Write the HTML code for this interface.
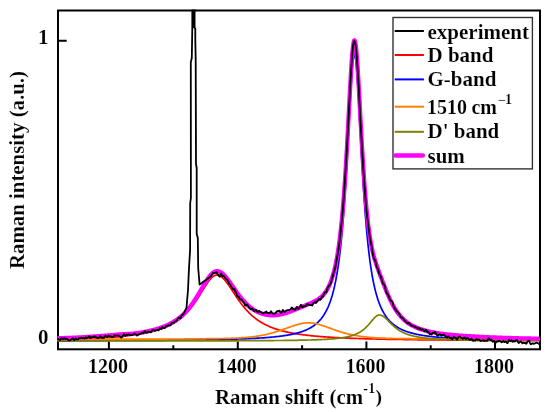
<!DOCTYPE html>
<html><head><meta charset="utf-8"><title>Raman spectrum</title>
<style>html,body{margin:0;padding:0;background:#fff;overflow:hidden}svg{display:block}</style>
</head><body>
<svg width="550" height="412" viewBox="0 0 550 412">
<rect width="550" height="412" fill="#fff"/>
<rect x="58" y="10.5" width="482" height="338.8" fill="none" stroke="#000" stroke-width="2"/>
<path d="M108.9,349.3V341.5 M237.8,349.3V341.5 M366.4,349.3V341.5 M495.0,349.3V341.5 M173.3,349.3V345.2 M302.1,349.3V345.2 M430.7,349.3V345.2 M58,40.8H66.7 M58,341H66.7" stroke="#000" stroke-width="2" fill="none"/>
<defs><clipPath id="c"><rect x="50" y="9.5" width="500" height="342"/></clipPath></defs>
<g clip-path="url(#c)" fill="none" stroke-linejoin="round">
<polyline points="57.2,339.4 57.7,339.3 58.2,339.3 58.7,339.3 59.2,339.3 59.7,339.3 60.2,339.3 60.7,339.3 61.2,339.3 61.7,339.3 62.2,339.2 62.7,339.2 63.2,339.2 63.7,339.2 64.2,339.2 64.7,339.2 65.2,339.2 65.7,339.2 66.2,339.2 66.7,339.1 67.2,339.1 67.7,339.1 68.2,339.1 68.7,339.1 69.2,339.1 69.7,339.1 70.2,339.1 70.7,339.0 71.2,339.0 71.7,339.0 72.2,339.0 72.7,339.0 73.2,339.0 73.7,339.0 74.2,339.0 74.7,338.9 75.2,338.9 75.7,338.9 76.2,338.9 76.7,338.9 77.2,338.9 77.7,338.8 78.2,338.8 78.7,338.8 79.2,338.8 79.7,338.8 80.2,338.8 80.7,338.8 81.2,338.7 81.7,338.7 82.2,338.7 82.7,338.7 83.2,338.7 83.7,338.7 84.2,338.6 84.7,338.6 85.2,338.6 85.7,338.6 86.2,338.6 86.7,338.6 87.2,338.5 87.7,338.5 88.2,338.5 88.7,338.5 89.2,338.5 89.7,338.4 90.2,338.4 90.7,338.4 91.2,338.4 91.7,338.4 92.2,338.3 92.7,338.3 93.2,338.3 93.7,338.3 94.2,338.3 94.7,338.2 95.2,338.2 95.7,338.2 96.2,338.2 96.7,338.1 97.2,338.1 97.7,338.1 98.2,338.1 98.7,338.1 99.2,338.0 99.7,338.0 100.2,338.0 100.7,338.0 101.2,337.9 101.7,337.9 102.2,337.9 102.7,337.9 103.2,337.8 103.7,337.8 104.2,337.8 104.7,337.7 105.2,337.7 105.7,337.7 106.2,337.7 106.7,337.6 107.2,337.6 107.7,337.6 108.2,337.5 108.7,337.5 109.2,337.5 109.7,337.5 110.2,337.4 110.7,337.4 111.2,337.4 111.7,337.3 112.2,337.3 112.7,337.3 113.2,337.2 113.7,337.2 114.2,337.2 114.7,337.1 115.2,337.1 115.7,337.0 116.2,337.0 116.7,337.0 117.2,336.9 117.7,336.9 118.2,336.9 118.7,336.8 119.2,336.8 119.7,336.7 120.2,336.7 120.7,336.6 121.2,336.6 121.7,336.5 122.2,336.4 122.7,336.4 123.2,336.3 123.7,336.3 124.2,336.2 124.7,336.1 125.2,336.1 125.7,336.0 126.2,335.9 126.7,335.9 127.2,335.8 127.7,335.7 128.2,335.7 128.7,335.6 129.2,335.5 129.7,335.4 130.2,335.4 130.7,335.3 131.2,335.2 131.7,335.1 132.2,335.1 132.7,335.0 133.2,334.9 133.7,334.8 134.2,334.7 134.7,334.7 135.2,334.6 135.7,334.5 136.2,334.4 136.7,334.3 137.2,334.2 137.7,334.2 138.2,334.1 138.7,334.0 139.2,333.9 139.7,333.8 140.2,333.7 140.7,333.6 141.2,333.5 141.7,333.5 142.2,333.4 142.7,333.3 143.2,333.2 143.7,333.1 144.2,333.0 144.7,332.9 145.2,332.9 145.7,332.8 146.2,332.7 146.7,332.6 147.2,332.5 147.7,332.4 148.2,332.3 148.7,332.2 149.2,332.1 149.7,332.0 150.2,331.8 150.7,331.7 151.2,331.6 151.7,331.5 152.2,331.4 152.7,331.3 153.2,331.1 153.7,331.0 154.2,330.9 154.7,330.8 155.2,330.6 155.7,330.5 156.2,330.4 156.7,330.2 157.2,330.1 157.7,329.9 158.2,329.8 158.7,329.6 159.2,329.5 159.7,329.3 160.2,329.1 160.7,329.0 161.2,328.8 161.7,328.6 162.2,328.5 162.7,328.3 163.2,328.1 163.7,327.9 164.2,327.7 164.7,327.5 165.2,327.3 165.7,327.1 166.2,326.9 166.7,326.7 167.2,326.5 167.7,326.3 168.2,326.0 168.7,325.8 169.2,325.6 169.7,325.3 170.2,325.1 170.7,324.8 171.2,324.6 171.7,324.3 172.2,324.0 172.7,323.7 173.2,323.5 173.7,323.2 174.2,322.9 174.7,322.6 175.2,322.3 175.7,321.9 176.2,321.6 176.7,321.3 177.2,320.9 177.7,320.6 178.2,320.2 178.7,319.9 179.2,319.5 179.7,319.1 180.2,318.7 180.7,318.3 181.2,317.9 181.7,317.5 182.2,317.1 182.7,316.6 183.2,316.2 183.7,315.7 184.2,315.2 184.7,314.7 185.2,314.3 185.7,313.8 186.2,313.2 186.7,312.7 187.2,312.2 187.7,311.6 188.2,311.1 188.7,310.5 189.2,309.9 189.7,309.3 190.2,308.7 190.7,308.1 191.2,307.5 191.7,306.9 192.2,306.2 192.7,305.6 193.2,304.9 193.7,304.2 194.2,303.5 194.7,302.8 195.2,302.1 195.7,301.4 196.2,300.7 196.7,299.9 197.2,299.2 197.7,298.4 198.2,297.6 198.7,296.8 199.2,296.1 199.7,295.3 200.2,294.5 200.7,293.7 201.2,292.8 201.7,292.0 202.2,291.2 202.7,290.4 203.2,289.6 203.7,288.8 204.2,288.0 204.7,287.2 205.2,286.4 205.7,285.6 206.2,284.8 206.7,284.0 207.2,283.3 207.7,282.6 208.2,281.8 208.7,281.2 209.2,280.5 209.7,279.9 210.2,279.3 210.7,278.7 211.2,278.2 211.7,277.7 212.2,277.2 212.7,276.8 213.2,276.4 213.7,276.1 214.2,275.8 214.7,275.6 215.2,275.4 215.7,275.3 216.2,275.2 216.7,275.2 217.2,275.2 217.7,275.2 218.2,275.3 218.7,275.5 219.2,275.6 219.7,275.9 220.2,276.1 220.7,276.4 221.2,276.7 221.7,277.1 222.2,277.5 222.7,278.0 223.2,278.4 223.7,278.9 224.2,279.5 224.7,280.0 225.2,280.6 225.7,281.2 226.2,281.9 226.7,282.5 227.2,283.2 227.7,283.9 228.2,284.6 228.7,285.3 229.2,286.0 229.7,286.7 230.2,287.5 230.7,288.2 231.2,289.0 231.7,289.8 232.2,290.5 232.7,291.3 233.2,292.1 233.7,292.8 234.2,293.6 234.7,294.3 235.2,295.1 235.7,295.9 236.2,296.6 236.7,297.3 237.2,298.1 237.7,298.8 238.2,299.5 238.7,300.2 239.2,300.9 239.7,301.6 240.2,302.3 240.7,303.0 241.2,303.7 241.7,304.3 242.2,305.0 242.7,305.6 243.2,306.2 243.7,306.9 244.2,307.5 244.7,308.1 245.2,308.6 245.7,309.2 246.2,309.8 246.7,310.3 247.2,310.9 247.7,311.4 248.2,311.9 248.7,312.4 249.2,313.0 249.7,313.4 250.2,313.9 250.7,314.4 251.2,314.9 251.7,315.3 252.2,315.8 252.7,316.2 253.2,316.6 253.7,317.0 254.2,317.4 254.7,317.8 255.2,318.2 255.7,318.6 256.2,319.0 256.7,319.4 257.2,319.7 257.7,320.1 258.2,320.4 258.7,320.8 259.2,321.1 259.7,321.4 260.2,321.7 260.7,322.0 261.2,322.3 261.7,322.6 262.2,322.9 262.7,323.2 263.2,323.5 263.7,323.8 264.2,324.0 264.7,324.3 265.2,324.6 265.7,324.8 266.2,325.1 266.7,325.3 267.2,325.5 267.7,325.8 268.2,326.0 268.7,326.2 269.2,326.4 269.7,326.7 270.2,326.9 270.7,327.1 271.2,327.3 271.7,327.5 272.2,327.7 272.7,327.9 273.2,328.0 273.7,328.2 274.2,328.4 274.7,328.6 275.2,328.8 275.7,328.9 276.2,329.1 276.7,329.3 277.2,329.4 277.7,329.6 278.2,329.7 278.7,329.9 279.2,330.0 279.7,330.2 280.2,330.3 280.7,330.5 281.2,330.6 281.7,330.7 282.2,330.9 282.7,331.0 283.2,331.1 283.7,331.2 284.2,331.4 284.7,331.5 285.2,331.6 285.7,331.7 286.2,331.8 286.7,331.9 287.2,332.1 287.7,332.2 288.2,332.3 288.7,332.4 289.2,332.5 289.7,332.6 290.2,332.7 290.7,332.8 291.2,332.9 291.7,333.0 292.2,333.1 292.7,333.2 293.2,333.2 293.7,333.3 294.2,333.4 294.7,333.5 295.2,333.6 295.7,333.7 296.2,333.8 296.7,333.8 297.2,333.9 297.7,334.0 298.2,334.1 298.7,334.1 299.2,334.2 299.7,334.3 300.2,334.4 300.7,334.4 301.2,334.5 301.7,334.6 302.2,334.6 302.7,334.7 303.2,334.8 303.7,334.8 304.2,334.9 304.7,335.0 305.2,335.0 305.7,335.1 306.2,335.2 306.7,335.2 307.2,335.3 307.7,335.3 308.2,335.4 308.7,335.4 309.2,335.5 309.7,335.5 310.2,335.6 310.7,335.7 311.2,335.7 311.7,335.8 312.2,335.8 312.7,335.9 313.2,335.9 313.7,336.0 314.2,336.0 314.7,336.1 315.2,336.1 315.7,336.1 316.2,336.2 316.7,336.2 317.2,336.3 317.7,336.3 318.2,336.4 318.7,336.4 319.2,336.4 319.7,336.5 320.2,336.5 320.7,336.6 321.2,336.6 321.7,336.6 322.2,336.7 322.7,336.7 323.2,336.8 323.7,336.8 324.2,336.8 324.7,336.9 325.2,336.9 325.7,336.9 326.2,337.0 326.7,337.0 327.2,337.0 327.7,337.1 328.2,337.1 328.7,337.1 329.2,337.2 329.7,337.2 330.2,337.2 330.7,337.3 331.2,337.3 331.7,337.3 332.2,337.4 332.7,337.4 333.2,337.4 333.7,337.4 334.2,337.5 334.7,337.5 335.2,337.5 335.7,337.6 336.2,337.6 336.7,337.6 337.2,337.6 337.7,337.7 338.2,337.7 338.7,337.7 339.2,337.7 339.7,337.8 340.2,337.8 340.7,337.8 341.2,337.8 341.7,337.9 342.2,337.9 342.7,337.9 343.2,337.9 343.7,338.0 344.2,338.0 344.7,338.0 345.2,338.0 345.7,338.1 346.2,338.1 346.7,338.1 347.2,338.1 347.7,338.1 348.2,338.2 348.7,338.2 349.2,338.2 349.7,338.2 350.2,338.2 350.7,338.3 351.2,338.3 351.7,338.3 352.2,338.3 352.7,338.3 353.2,338.4 353.7,338.4 354.2,338.4 354.7,338.4 355.2,338.4 355.7,338.4 356.2,338.5 356.7,338.5 357.2,338.5 357.7,338.5 358.2,338.5 358.7,338.5 359.2,338.6 359.7,338.6 360.2,338.6 360.7,338.6 361.2,338.6 361.7,338.6 362.2,338.7 362.7,338.7 363.2,338.7 363.7,338.7 364.2,338.7 364.7,338.7 365.2,338.8 365.7,338.8 366.2,338.8 366.7,338.8 367.2,338.8 367.7,338.8 368.2,338.8 368.7,338.8 369.2,338.9 369.7,338.9 370.2,338.9 370.7,338.9 371.2,338.9 371.7,338.9 372.2,338.9 372.7,339.0 373.2,339.0 373.7,339.0 374.2,339.0 374.7,339.0 375.2,339.0 375.7,339.0 376.2,339.0 376.7,339.1 377.2,339.1 377.7,339.1 378.2,339.1 378.7,339.1 379.2,339.1 379.7,339.1 380.2,339.1 380.7,339.1 381.2,339.2 381.7,339.2 382.2,339.2 382.7,339.2 383.2,339.2 383.7,339.2 384.2,339.2 384.7,339.2 385.2,339.2 385.7,339.2 386.2,339.3 386.7,339.3 387.2,339.3 387.7,339.3 388.2,339.3 388.7,339.3 389.2,339.3 389.7,339.3 390.2,339.3 390.7,339.3 391.2,339.4 391.7,339.4 392.2,339.4 392.7,339.4 393.2,339.4 393.7,339.4 394.2,339.4 394.7,339.4 395.2,339.4 395.7,339.4 396.2,339.4 396.7,339.5 397.2,339.5 397.7,339.5 398.2,339.5 398.7,339.5 399.2,339.5 399.7,339.5 400.2,339.5 400.7,339.5 401.2,339.5 401.7,339.5 402.2,339.5 402.7,339.5 403.2,339.6 403.7,339.6 404.2,339.6 404.7,339.6 405.2,339.6 405.7,339.6 406.2,339.6 406.7,339.6 407.2,339.6 407.7,339.6 408.2,339.6 408.7,339.6 409.2,339.6 409.7,339.6 410.2,339.7 410.7,339.7 411.2,339.7 411.7,339.7 412.2,339.7 412.7,339.7 413.2,339.7 413.7,339.7 414.2,339.7 414.7,339.7 415.2,339.7 415.7,339.7 416.2,339.7 416.7,339.7 417.2,339.7 417.7,339.8 418.2,339.8 418.7,339.8 419.2,339.8 419.7,339.8 420.2,339.8 420.7,339.8 421.2,339.8 421.7,339.8 422.2,339.8 422.7,339.8 423.2,339.8 423.7,339.8 424.2,339.8 424.7,339.8 425.2,339.8 425.7,339.8 426.2,339.9 426.7,339.9 427.2,339.9 427.7,339.9 428.2,339.9 428.7,339.9 429.2,339.9 429.7,339.9 430.2,339.9 430.7,339.9 431.2,339.9 431.7,339.9 432.2,339.9 432.7,339.9 433.2,339.9 433.7,339.9 434.2,339.9 434.7,339.9 435.2,339.9 435.7,339.9 436.2,340.0 436.7,340.0 437.2,340.0 437.7,340.0 438.2,340.0 438.7,340.0 439.2,340.0 439.7,340.0 440.2,340.0 440.7,340.0 441.2,340.0 441.7,340.0 442.2,340.0 442.7,340.0 443.2,340.0 443.7,340.0 444.2,340.0 444.7,340.0 445.2,340.0 445.7,340.0 446.2,340.0 446.7,340.0 447.2,340.0 447.7,340.1 448.2,340.1 448.7,340.1 449.2,340.1 449.7,340.1 450.2,340.1 450.7,340.1 451.2,340.1 451.7,340.1 452.2,340.1 452.7,340.1 453.2,340.1 453.7,340.1 454.2,340.1 454.7,340.1 455.2,340.1 455.7,340.1 456.2,340.1 456.7,340.1 457.2,340.1 457.7,340.1 458.2,340.1 458.7,340.1 459.2,340.1 459.7,340.1 460.2,340.1 460.7,340.1 461.2,340.2 461.7,340.2 462.2,340.2 462.7,340.2 463.2,340.2 463.7,340.2 464.2,340.2 464.7,340.2 465.2,340.2 465.7,340.2 466.2,340.2 466.7,340.2 467.2,340.2 467.7,340.2 468.2,340.2 468.7,340.2 469.2,340.2 469.7,340.2 470.2,340.2 470.7,340.2 471.2,340.2 471.7,340.2 472.2,340.2 472.7,340.2 473.2,340.2 473.7,340.2 474.2,340.2 474.7,340.2 475.2,340.2 475.7,340.2 476.2,340.2 476.7,340.2 477.2,340.3 477.7,340.3 478.2,340.3 478.7,340.3 479.2,340.3 479.7,340.3 480.2,340.3 480.7,340.3 481.2,340.3 481.7,340.3 482.2,340.3 482.7,340.3 483.2,340.3 483.7,340.3 484.2,340.3 484.7,340.3 485.2,340.3 485.7,340.3 486.2,340.3 486.7,340.3 487.2,340.3 487.7,340.3 488.2,340.3 488.7,340.3 489.2,340.3 489.7,340.3 490.2,340.3 490.7,340.3 491.2,340.3 491.7,340.3 492.2,340.3 492.7,340.3 493.2,340.3 493.7,340.3 494.2,340.3 494.7,340.3 495.2,340.3 495.7,340.3 496.2,340.3 496.7,340.4 497.2,340.4 497.7,340.4 498.2,340.4 498.7,340.4 499.2,340.4 499.7,340.4 500.2,340.4 500.7,340.4 501.2,340.4 501.7,340.4 502.2,340.4 502.7,340.4 503.2,340.4 503.7,340.4 504.2,340.4 504.7,340.4 505.2,340.4 505.7,340.4 506.2,340.4 506.7,340.4 507.2,340.4 507.7,340.4 508.2,340.4 508.7,340.4 509.2,340.4 509.7,340.4 510.2,340.4 510.7,340.4 511.2,340.4 511.7,340.4 512.2,340.4 512.7,340.4 513.2,340.4 513.7,340.4 514.2,340.4 514.7,340.4 515.2,340.4 515.7,340.4 516.2,340.4 516.7,340.4 517.2,340.4 517.7,340.4 518.2,340.4 518.7,340.4 519.2,340.4 519.7,340.4 520.2,340.4 520.7,340.4 521.2,340.5 521.7,340.5 522.2,340.5 522.7,340.5 523.2,340.5 523.7,340.5 524.2,340.5 524.7,340.5 525.2,340.5 525.7,340.5 526.2,340.5 526.7,340.5 527.2,340.5 527.7,340.5 528.2,340.5 528.7,340.5 529.2,340.5 529.7,340.5 530.2,340.5 530.7,340.5 531.2,340.5 531.7,340.5 532.2,340.5 532.7,340.5 533.2,340.5 533.7,340.5 534.2,340.5 534.7,340.5 535.2,340.5 535.7,340.5 536.2,340.5 536.7,340.5 537.2,340.5 537.7,340.5 538.2,340.5 538.7,340.5 539.2,340.5 539.7,340.5" stroke="#ff0000" stroke-width="1.7"/>
<polyline points="57.2,340.7 57.7,340.7 58.2,340.7 58.7,340.7 59.2,340.7 59.7,340.7 60.2,340.7 60.7,340.7 61.2,340.7 61.7,340.7 62.2,340.7 62.7,340.7 63.2,340.7 63.7,340.7 64.2,340.7 64.7,340.7 65.2,340.7 65.7,340.7 66.2,340.7 66.7,340.7 67.2,340.7 67.7,340.7 68.2,340.7 68.7,340.7 69.2,340.7 69.7,340.7 70.2,340.7 70.7,340.7 71.2,340.7 71.7,340.7 72.2,340.7 72.7,340.7 73.2,340.7 73.7,340.7 74.2,340.7 74.7,340.7 75.2,340.7 75.7,340.7 76.2,340.7 76.7,340.7 77.2,340.7 77.7,340.7 78.2,340.6 78.7,340.6 79.2,340.6 79.7,340.6 80.2,340.6 80.7,340.6 81.2,340.6 81.7,340.6 82.2,340.6 82.7,340.6 83.2,340.6 83.7,340.6 84.2,340.6 84.7,340.6 85.2,340.6 85.7,340.6 86.2,340.6 86.7,340.6 87.2,340.6 87.7,340.6 88.2,340.6 88.7,340.6 89.2,340.6 89.7,340.6 90.2,340.6 90.7,340.6 91.2,340.6 91.7,340.6 92.2,340.6 92.7,340.6 93.2,340.6 93.7,340.6 94.2,340.6 94.7,340.6 95.2,340.6 95.7,340.6 96.2,340.6 96.7,340.6 97.2,340.6 97.7,340.6 98.2,340.6 98.7,340.6 99.2,340.6 99.7,340.6 100.2,340.6 100.7,340.6 101.2,340.6 101.7,340.6 102.2,340.6 102.7,340.6 103.2,340.6 103.7,340.6 104.2,340.6 104.7,340.6 105.2,340.6 105.7,340.6 106.2,340.6 106.7,340.6 107.2,340.6 107.7,340.6 108.2,340.6 108.7,340.6 109.2,340.6 109.7,340.6 110.2,340.6 110.7,340.6 111.2,340.5 111.7,340.5 112.2,340.5 112.7,340.5 113.2,340.5 113.7,340.5 114.2,340.5 114.7,340.5 115.2,340.5 115.7,340.5 116.2,340.5 116.7,340.5 117.2,340.5 117.7,340.5 118.2,340.5 118.7,340.5 119.2,340.5 119.7,340.5 120.2,340.5 120.7,340.5 121.2,340.5 121.7,340.5 122.2,340.5 122.7,340.5 123.2,340.5 123.7,340.5 124.2,340.5 124.7,340.5 125.2,340.5 125.7,340.5 126.2,340.5 126.7,340.5 127.2,340.5 127.7,340.5 128.2,340.5 128.7,340.5 129.2,340.5 129.7,340.5 130.2,340.5 130.7,340.5 131.2,340.5 131.7,340.5 132.2,340.5 132.7,340.5 133.2,340.5 133.7,340.5 134.2,340.4 134.7,340.4 135.2,340.4 135.7,340.4 136.2,340.4 136.7,340.4 137.2,340.4 137.7,340.4 138.2,340.4 138.7,340.4 139.2,340.4 139.7,340.4 140.2,340.4 140.7,340.4 141.2,340.4 141.7,340.4 142.2,340.4 142.7,340.4 143.2,340.4 143.7,340.4 144.2,340.4 144.7,340.4 145.2,340.4 145.7,340.4 146.2,340.4 146.7,340.4 147.2,340.4 147.7,340.4 148.2,340.4 148.7,340.4 149.2,340.4 149.7,340.4 150.2,340.4 150.7,340.4 151.2,340.4 151.7,340.4 152.2,340.3 152.7,340.3 153.2,340.3 153.7,340.3 154.2,340.3 154.7,340.3 155.2,340.3 155.7,340.3 156.2,340.3 156.7,340.3 157.2,340.3 157.7,340.3 158.2,340.3 158.7,340.3 159.2,340.3 159.7,340.3 160.2,340.3 160.7,340.3 161.2,340.3 161.7,340.3 162.2,340.3 162.7,340.3 163.2,340.3 163.7,340.3 164.2,340.3 164.7,340.3 165.2,340.3 165.7,340.3 166.2,340.2 166.7,340.2 167.2,340.2 167.7,340.2 168.2,340.2 168.7,340.2 169.2,340.2 169.7,340.2 170.2,340.2 170.7,340.2 171.2,340.2 171.7,340.2 172.2,340.2 172.7,340.2 173.2,340.2 173.7,340.2 174.2,340.2 174.7,340.2 175.2,340.2 175.7,340.2 176.2,340.2 176.7,340.2 177.2,340.2 177.7,340.1 178.2,340.1 178.7,340.1 179.2,340.1 179.7,340.1 180.2,340.1 180.7,340.1 181.2,340.1 181.7,340.1 182.2,340.1 182.7,340.1 183.2,340.1 183.7,340.1 184.2,340.1 184.7,340.1 185.2,340.1 185.7,340.1 186.2,340.1 186.7,340.1 187.2,340.0 187.7,340.0 188.2,340.0 188.7,340.0 189.2,340.0 189.7,340.0 190.2,340.0 190.7,340.0 191.2,340.0 191.7,340.0 192.2,340.0 192.7,340.0 193.2,340.0 193.7,340.0 194.2,340.0 194.7,340.0 195.2,339.9 195.7,339.9 196.2,339.9 196.7,339.9 197.2,339.9 197.7,339.9 198.2,339.9 198.7,339.9 199.2,339.9 199.7,339.9 200.2,339.9 200.7,339.9 201.2,339.9 201.7,339.9 202.2,339.8 202.7,339.8 203.2,339.8 203.7,339.8 204.2,339.8 204.7,339.8 205.2,339.8 205.7,339.8 206.2,339.8 206.7,339.8 207.2,339.8 207.7,339.8 208.2,339.8 208.7,339.7 209.2,339.7 209.7,339.7 210.2,339.7 210.7,339.7 211.2,339.7 211.7,339.7 212.2,339.7 212.7,339.7 213.2,339.7 213.7,339.7 214.2,339.6 214.7,339.6 215.2,339.6 215.7,339.6 216.2,339.6 216.7,339.6 217.2,339.6 217.7,339.6 218.2,339.6 218.7,339.6 219.2,339.5 219.7,339.5 220.2,339.5 220.7,339.5 221.2,339.5 221.7,339.5 222.2,339.5 222.7,339.5 223.2,339.5 223.7,339.4 224.2,339.4 224.7,339.4 225.2,339.4 225.7,339.4 226.2,339.4 226.7,339.4 227.2,339.4 227.7,339.3 228.2,339.3 228.7,339.3 229.2,339.3 229.7,339.3 230.2,339.3 230.7,339.3 231.2,339.2 231.7,339.2 232.2,339.2 232.7,339.2 233.2,339.2 233.7,339.2 234.2,339.2 234.7,339.1 235.2,339.1 235.7,339.1 236.2,339.1 236.7,339.1 237.2,339.1 237.7,339.0 238.2,339.0 238.7,339.0 239.2,339.0 239.7,339.0 240.2,339.0 240.7,338.9 241.2,338.9 241.7,338.9 242.2,338.9 242.7,338.9 243.2,338.9 243.7,338.8 244.2,338.8 244.7,338.8 245.2,338.8 245.7,338.8 246.2,338.7 246.7,338.7 247.2,338.7 247.7,338.7 248.2,338.6 248.7,338.6 249.2,338.6 249.7,338.6 250.2,338.6 250.7,338.5 251.2,338.5 251.7,338.5 252.2,338.5 252.7,338.4 253.2,338.4 253.7,338.4 254.2,338.4 254.7,338.3 255.2,338.3 255.7,338.3 256.2,338.3 256.7,338.2 257.2,338.2 257.7,338.2 258.2,338.1 258.7,338.1 259.2,338.1 259.7,338.0 260.2,338.0 260.7,338.0 261.2,338.0 261.7,337.9 262.2,337.9 262.7,337.9 263.2,337.8 263.7,337.8 264.2,337.8 264.7,337.7 265.2,337.7 265.7,337.6 266.2,337.6 266.7,337.6 267.2,337.5 267.7,337.5 268.2,337.4 268.7,337.4 269.2,337.4 269.7,337.3 270.2,337.3 270.7,337.2 271.2,337.2 271.7,337.1 272.2,337.1 272.7,337.0 273.2,337.0 273.7,337.0 274.2,336.9 274.7,336.9 275.2,336.8 275.7,336.7 276.2,336.7 276.7,336.6 277.2,336.6 277.7,336.5 278.2,336.5 278.7,336.4 279.2,336.3 279.7,336.3 280.2,336.2 280.7,336.2 281.2,336.1 281.7,336.0 282.2,336.0 282.7,335.9 283.2,335.8 283.7,335.7 284.2,335.7 284.7,335.6 285.2,335.5 285.7,335.4 286.2,335.4 286.7,335.3 287.2,335.2 287.7,335.1 288.2,335.0 288.7,334.9 289.2,334.8 289.7,334.8 290.2,334.7 290.7,334.6 291.2,334.5 291.7,334.4 292.2,334.3 292.7,334.1 293.2,334.0 293.7,333.9 294.2,333.8 294.7,333.7 295.2,333.6 295.7,333.4 296.2,333.3 296.7,333.2 297.2,333.1 297.7,332.9 298.2,332.8 298.7,332.6 299.2,332.5 299.7,332.3 300.2,332.2 300.7,332.0 301.2,331.9 301.7,331.7 302.2,331.5 302.7,331.3 303.2,331.2 303.7,331.0 304.2,330.8 304.7,330.6 305.2,330.4 305.7,330.2 306.2,329.9 306.7,329.7 307.2,329.5 307.7,329.2 308.2,329.0 308.7,328.8 309.2,328.5 309.7,328.2 310.2,327.9 310.7,327.7 311.2,327.4 311.7,327.1 312.2,326.7 312.7,326.4 313.2,326.1 313.7,325.7 314.2,325.4 314.7,325.0 315.2,324.6 315.7,324.2 316.2,323.8 316.7,323.4 317.2,322.9 317.7,322.4 318.2,322.0 318.7,321.5 319.2,320.9 319.7,320.4 320.2,319.8 320.7,319.3 321.2,318.7 321.7,318.0 322.2,317.4 322.7,316.7 323.2,316.0 323.7,315.2 324.2,314.4 324.7,313.6 325.2,312.8 325.7,311.9 326.2,310.9 326.7,310.0 327.2,308.9 327.7,307.9 328.2,306.8 328.7,305.6 329.2,304.3 329.7,303.0 330.2,301.7 330.7,300.2 331.2,298.7 331.7,297.1 332.2,295.5 332.7,293.7 333.2,291.8 333.7,289.9 334.2,287.8 334.7,285.6 335.2,283.2 335.7,280.8 336.2,278.2 336.7,275.4 337.2,272.4 337.7,269.3 338.2,266.0 338.7,262.5 339.2,258.8 339.7,254.8 340.2,250.6 340.7,246.1 341.2,241.3 341.7,236.3 342.2,230.9 342.7,225.2 343.2,219.1 343.7,212.7 344.2,205.9 344.7,198.8 345.2,191.2 345.7,183.3 346.2,175.0 346.7,166.4 347.2,157.4 347.7,148.2 348.2,138.7 348.7,129.2 349.2,119.6 349.7,110.1 350.2,100.8 350.7,91.9 351.2,83.5 351.7,75.9 352.2,69.3 352.7,63.7 353.2,59.4 353.7,56.4 354.2,55.0 354.7,55.0 355.2,56.6 355.7,59.7 356.2,64.1 356.7,69.7 357.2,76.5 357.7,84.2 358.2,92.6 358.7,101.5 359.2,110.8 359.7,120.3 360.2,129.9 360.7,139.5 361.2,148.9 361.7,158.2 362.2,167.1 362.7,175.7 363.2,184.0 363.7,191.9 364.2,199.4 364.7,206.5 365.2,213.3 365.7,219.6 366.2,225.7 366.7,231.3 367.2,236.7 367.7,241.7 368.2,246.5 368.7,250.9 369.2,255.1 369.7,259.1 370.2,262.8 370.7,266.3 371.2,269.6 371.7,272.7 372.2,275.6 372.7,278.4 373.2,281.0 373.7,283.4 374.2,285.7 374.7,287.9 375.2,290.0 375.7,292.0 376.2,293.8 376.7,295.6 377.2,297.3 377.7,298.9 378.2,300.4 378.7,301.8 379.2,303.2 379.7,304.4 380.2,305.7 380.7,306.8 381.2,308.0 381.7,309.0 382.2,310.0 382.7,311.0 383.2,311.9 383.7,312.8 384.2,313.7 384.7,314.5 385.2,315.3 385.7,316.0 386.2,316.7 386.7,317.4 387.2,318.1 387.7,318.7 388.2,319.3 388.7,319.9 389.2,320.5 389.7,321.0 390.2,321.5 390.7,322.0 391.2,322.5 391.7,322.9 392.2,323.4 392.7,323.8 393.2,324.2 393.7,324.6 394.2,325.0 394.7,325.4 395.2,325.8 395.7,326.1 396.2,326.4 396.7,326.8 397.2,327.1 397.7,327.4 398.2,327.7 398.7,328.0 399.2,328.2 399.7,328.5 400.2,328.8 400.7,329.0 401.2,329.3 401.7,329.5 402.2,329.7 402.7,330.0 403.2,330.2 403.7,330.4 404.2,330.6 404.7,330.8 405.2,331.0 405.7,331.2 406.2,331.4 406.7,331.5 407.2,331.7 407.7,331.9 408.2,332.0 408.7,332.2 409.2,332.3 409.7,332.5 410.2,332.6 410.7,332.8 411.2,332.9 411.7,333.1 412.2,333.2 412.7,333.3 413.2,333.5 413.7,333.6 414.2,333.7 414.7,333.8 415.2,333.9 415.7,334.0 416.2,334.2 416.7,334.3 417.2,334.4 417.7,334.5 418.2,334.6 418.7,334.7 419.2,334.8 419.7,334.9 420.2,334.9 420.7,335.0 421.2,335.1 421.7,335.2 422.2,335.3 422.7,335.4 423.2,335.5 423.7,335.5 424.2,335.6 424.7,335.7 425.2,335.8 425.7,335.8 426.2,335.9 426.7,336.0 427.2,336.0 427.7,336.1 428.2,336.2 428.7,336.2 429.2,336.3 429.7,336.4 430.2,336.4 430.7,336.5 431.2,336.5 431.7,336.6 432.2,336.6 432.7,336.7 433.2,336.8 433.7,336.8 434.2,336.9 434.7,336.9 435.2,337.0 435.7,337.0 436.2,337.1 436.7,337.1 437.2,337.1 437.7,337.2 438.2,337.2 438.7,337.3 439.2,337.3 439.7,337.4 440.2,337.4 440.7,337.4 441.2,337.5 441.7,337.5 442.2,337.6 442.7,337.6 443.2,337.6 443.7,337.7 444.2,337.7 444.7,337.8 445.2,337.8 445.7,337.8 446.2,337.9 446.7,337.9 447.2,337.9 447.7,338.0 448.2,338.0 448.7,338.0 449.2,338.1 449.7,338.1 450.2,338.1 450.7,338.1 451.2,338.2 451.7,338.2 452.2,338.2 452.7,338.3 453.2,338.3 453.7,338.3 454.2,338.3 454.7,338.4 455.2,338.4 455.7,338.4 456.2,338.4 456.7,338.5 457.2,338.5 457.7,338.5 458.2,338.5 458.7,338.6 459.2,338.6 459.7,338.6 460.2,338.6 460.7,338.6 461.2,338.7 461.7,338.7 462.2,338.7 462.7,338.7 463.2,338.8 463.7,338.8 464.2,338.8 464.7,338.8 465.2,338.8 465.7,338.9 466.2,338.9 466.7,338.9 467.2,338.9 467.7,338.9 468.2,338.9 468.7,339.0 469.2,339.0 469.7,339.0 470.2,339.0 470.7,339.0 471.2,339.1 471.7,339.1 472.2,339.1 472.7,339.1 473.2,339.1 473.7,339.1 474.2,339.1 474.7,339.2 475.2,339.2 475.7,339.2 476.2,339.2 476.7,339.2 477.2,339.2 477.7,339.2 478.2,339.3 478.7,339.3 479.2,339.3 479.7,339.3 480.2,339.3 480.7,339.3 481.2,339.3 481.7,339.4 482.2,339.4 482.7,339.4 483.2,339.4 483.7,339.4 484.2,339.4 484.7,339.4 485.2,339.4 485.7,339.5 486.2,339.5 486.7,339.5 487.2,339.5 487.7,339.5 488.2,339.5 488.7,339.5 489.2,339.5 489.7,339.5 490.2,339.6 490.7,339.6 491.2,339.6 491.7,339.6 492.2,339.6 492.7,339.6 493.2,339.6 493.7,339.6 494.2,339.6 494.7,339.6 495.2,339.7 495.7,339.7 496.2,339.7 496.7,339.7 497.2,339.7 497.7,339.7 498.2,339.7 498.7,339.7 499.2,339.7 499.7,339.7 500.2,339.7 500.7,339.8 501.2,339.8 501.7,339.8 502.2,339.8 502.7,339.8 503.2,339.8 503.7,339.8 504.2,339.8 504.7,339.8 505.2,339.8 505.7,339.8 506.2,339.8 506.7,339.9 507.2,339.9 507.7,339.9 508.2,339.9 508.7,339.9 509.2,339.9 509.7,339.9 510.2,339.9 510.7,339.9 511.2,339.9 511.7,339.9 512.2,339.9 512.7,339.9 513.2,339.9 513.7,339.9 514.2,340.0 514.7,340.0 515.2,340.0 515.7,340.0 516.2,340.0 516.7,340.0 517.2,340.0 517.7,340.0 518.2,340.0 518.7,340.0 519.2,340.0 519.7,340.0 520.2,340.0 520.7,340.0 521.2,340.0 521.7,340.0 522.2,340.1 522.7,340.1 523.2,340.1 523.7,340.1 524.2,340.1 524.7,340.1 525.2,340.1 525.7,340.1 526.2,340.1 526.7,340.1 527.2,340.1 527.7,340.1 528.2,340.1 528.7,340.1 529.2,340.1 529.7,340.1 530.2,340.1 530.7,340.1 531.2,340.1 531.7,340.2 532.2,340.2 532.7,340.2 533.2,340.2 533.7,340.2 534.2,340.2 534.7,340.2 535.2,340.2 535.7,340.2 536.2,340.2 536.7,340.2 537.2,340.2 537.7,340.2 538.2,340.2 538.7,340.2 539.2,340.2 539.7,340.2" stroke="#0000ff" stroke-width="1.7"/>
<polyline points="57.2,339.3 57.7,339.3 58.2,339.3 58.7,339.3 59.2,339.3 59.7,339.3 60.2,339.3 60.7,339.3 61.2,339.3 61.7,339.3 62.2,339.3 62.7,339.3 63.2,339.3 63.7,339.3 64.2,339.3 64.7,339.3 65.2,339.3 65.7,339.3 66.2,339.3 66.7,339.3 67.2,339.3 67.7,339.3 68.2,339.3 68.7,339.3 69.2,339.3 69.7,339.3 70.2,339.3 70.7,339.3 71.2,339.3 71.7,339.3 72.2,339.3 72.7,339.3 73.2,339.3 73.7,339.3 74.2,339.3 74.7,339.3 75.2,339.3 75.7,339.3 76.2,339.3 76.7,339.3 77.2,339.3 77.7,339.3 78.2,339.3 78.7,339.3 79.2,339.3 79.7,339.3 80.2,339.3 80.7,339.3 81.2,339.3 81.7,339.3 82.2,339.3 82.7,339.3 83.2,339.3 83.7,339.3 84.2,339.3 84.7,339.3 85.2,339.3 85.7,339.3 86.2,339.3 86.7,339.3 87.2,339.3 87.7,339.3 88.2,339.3 88.7,339.3 89.2,339.3 89.7,339.3 90.2,339.3 90.7,339.3 91.2,339.3 91.7,339.3 92.2,339.3 92.7,339.3 93.2,339.3 93.7,339.3 94.2,339.3 94.7,339.2 95.2,339.2 95.7,339.2 96.2,339.2 96.7,339.2 97.2,339.2 97.7,339.2 98.2,339.2 98.7,339.2 99.2,339.2 99.7,339.2 100.2,339.2 100.7,339.2 101.2,339.2 101.7,339.2 102.2,339.2 102.7,339.2 103.2,339.2 103.7,339.2 104.2,339.2 104.7,339.2 105.2,339.2 105.7,339.2 106.2,339.2 106.7,339.2 107.2,339.2 107.7,339.2 108.2,339.2 108.7,339.2 109.2,339.2 109.7,339.2 110.2,339.2 110.7,339.2 111.2,339.2 111.7,339.2 112.2,339.2 112.7,339.2 113.2,339.2 113.7,339.2 114.2,339.2 114.7,339.2 115.2,339.2 115.7,339.2 116.2,339.2 116.7,339.2 117.2,339.2 117.7,339.2 118.2,339.2 118.7,339.2 119.2,339.2 119.7,339.2 120.2,339.2 120.7,339.2 121.2,339.2 121.7,339.2 122.2,339.2 122.7,339.2 123.2,339.2 123.7,339.2 124.2,339.2 124.7,339.2 125.2,339.2 125.7,339.2 126.2,339.2 126.7,339.2 127.2,339.2 127.7,339.2 128.2,339.2 128.7,339.2 129.2,339.2 129.7,339.2 130.2,339.2 130.7,339.2 131.2,339.2 131.7,339.2 132.2,339.2 132.7,339.2 133.2,339.2 133.7,339.2 134.2,339.2 134.7,339.2 135.2,339.2 135.7,339.2 136.2,339.2 136.7,339.2 137.2,339.2 137.7,339.2 138.2,339.2 138.7,339.2 139.2,339.2 139.7,339.2 140.2,339.2 140.7,339.2 141.2,339.2 141.7,339.1 142.2,339.1 142.7,339.1 143.2,339.1 143.7,339.1 144.2,339.1 144.7,339.1 145.2,339.1 145.7,339.1 146.2,339.1 146.7,339.1 147.2,339.1 147.7,339.1 148.2,339.1 148.7,339.1 149.2,339.1 149.7,339.1 150.2,339.1 150.7,339.1 151.2,339.1 151.7,339.1 152.2,339.1 152.7,339.1 153.2,339.1 153.7,339.1 154.2,339.1 154.7,339.1 155.2,339.1 155.7,339.1 156.2,339.1 156.7,339.1 157.2,339.1 157.7,339.1 158.2,339.1 158.7,339.1 159.2,339.1 159.7,339.1 160.2,339.1 160.7,339.1 161.2,339.1 161.7,339.1 162.2,339.1 162.7,339.1 163.2,339.1 163.7,339.1 164.2,339.1 164.7,339.1 165.2,339.1 165.7,339.1 166.2,339.1 166.7,339.1 167.2,339.1 167.7,339.0 168.2,339.0 168.7,339.0 169.2,339.0 169.7,339.0 170.2,339.0 170.7,339.0 171.2,339.0 171.7,339.0 172.2,339.0 172.7,339.0 173.2,339.0 173.7,339.0 174.2,339.0 174.7,339.0 175.2,339.0 175.7,339.0 176.2,339.0 176.7,339.0 177.2,339.0 177.7,339.0 178.2,339.0 178.7,339.0 179.2,339.0 179.7,339.0 180.2,339.0 180.7,339.0 181.2,339.0 181.7,339.0 182.2,339.0 182.7,339.0 183.2,339.0 183.7,339.0 184.2,339.0 184.7,338.9 185.2,338.9 185.7,338.9 186.2,338.9 186.7,338.9 187.2,338.9 187.7,338.9 188.2,338.9 188.7,338.9 189.2,338.9 189.7,338.9 190.2,338.9 190.7,338.9 191.2,338.9 191.7,338.9 192.2,338.9 192.7,338.9 193.2,338.9 193.7,338.9 194.2,338.9 194.7,338.9 195.2,338.9 195.7,338.9 196.2,338.9 196.7,338.9 197.2,338.8 197.7,338.8 198.2,338.8 198.7,338.8 199.2,338.8 199.7,338.8 200.2,338.8 200.7,338.8 201.2,338.8 201.7,338.8 202.2,338.8 202.7,338.8 203.2,338.8 203.7,338.8 204.2,338.8 204.7,338.8 205.2,338.8 205.7,338.8 206.2,338.7 206.7,338.7 207.2,338.7 207.7,338.7 208.2,338.7 208.7,338.7 209.2,338.7 209.7,338.7 210.2,338.7 210.7,338.7 211.2,338.7 211.7,338.7 212.2,338.7 212.7,338.7 213.2,338.7 213.7,338.6 214.2,338.6 214.7,338.6 215.2,338.6 215.7,338.6 216.2,338.6 216.7,338.6 217.2,338.6 217.7,338.6 218.2,338.6 218.7,338.6 219.2,338.5 219.7,338.5 220.2,338.5 220.7,338.5 221.2,338.5 221.7,338.5 222.2,338.5 222.7,338.5 223.2,338.5 223.7,338.4 224.2,338.4 224.7,338.4 225.2,338.4 225.7,338.4 226.2,338.4 226.7,338.4 227.2,338.4 227.7,338.3 228.2,338.3 228.7,338.3 229.2,338.3 229.7,338.3 230.2,338.3 230.7,338.3 231.2,338.2 231.7,338.2 232.2,338.2 232.7,338.2 233.2,338.2 233.7,338.1 234.2,338.1 234.7,338.1 235.2,338.1 235.7,338.1 236.2,338.0 236.7,338.0 237.2,338.0 237.7,338.0 238.2,337.9 238.7,337.9 239.2,337.9 239.7,337.9 240.2,337.8 240.7,337.8 241.2,337.8 241.7,337.7 242.2,337.7 242.7,337.7 243.2,337.6 243.7,337.6 244.2,337.6 244.7,337.5 245.2,337.5 245.7,337.5 246.2,337.4 246.7,337.4 247.2,337.3 247.7,337.3 248.2,337.2 248.7,337.2 249.2,337.1 249.7,337.1 250.2,337.0 250.7,337.0 251.2,336.9 251.7,336.9 252.2,336.8 252.7,336.8 253.2,336.7 253.7,336.6 254.2,336.6 254.7,336.5 255.2,336.5 255.7,336.4 256.2,336.3 256.7,336.2 257.2,336.2 257.7,336.1 258.2,336.0 258.7,335.9 259.2,335.9 259.7,335.8 260.2,335.7 260.7,335.6 261.2,335.5 261.7,335.4 262.2,335.3 262.7,335.2 263.2,335.1 263.7,335.0 264.2,334.9 264.7,334.8 265.2,334.7 265.7,334.6 266.2,334.5 266.7,334.4 267.2,334.3 267.7,334.1 268.2,334.0 268.7,333.9 269.2,333.8 269.7,333.6 270.2,333.5 270.7,333.4 271.2,333.3 271.7,333.1 272.2,333.0 272.7,332.8 273.2,332.7 273.7,332.5 274.2,332.4 274.7,332.2 275.2,332.1 275.7,331.9 276.2,331.8 276.7,331.6 277.2,331.5 277.7,331.3 278.2,331.1 278.7,331.0 279.2,330.8 279.7,330.6 280.2,330.5 280.7,330.3 281.2,330.1 281.7,330.0 282.2,329.8 282.7,329.6 283.2,329.4 283.7,329.2 284.2,329.1 284.7,328.9 285.2,328.7 285.7,328.5 286.2,328.3 286.7,328.2 287.2,328.0 287.7,327.8 288.2,327.6 288.7,327.4 289.2,327.2 289.7,327.1 290.2,326.9 290.7,326.7 291.2,326.5 291.7,326.3 292.2,326.2 292.7,326.0 293.2,325.8 293.7,325.7 294.2,325.5 294.7,325.3 295.2,325.2 295.7,325.0 296.2,324.9 296.7,324.7 297.2,324.6 297.7,324.4 298.2,324.3 298.7,324.2 299.2,324.0 299.7,323.9 300.2,323.8 300.7,323.7 301.2,323.6 301.7,323.5 302.2,323.4 302.7,323.3 303.2,323.2 303.7,323.1 304.2,323.1 304.7,323.0 305.2,323.0 305.7,322.9 306.2,322.9 306.7,322.9 307.2,322.8 307.7,322.8 308.2,322.8 308.7,322.8 309.2,322.8 309.7,322.9 310.2,322.9 310.7,322.9 311.2,323.0 311.7,323.0 312.2,323.1 312.7,323.1 313.2,323.2 313.7,323.3 314.2,323.3 314.7,323.4 315.2,323.5 315.7,323.6 316.2,323.7 316.7,323.9 317.2,324.0 317.7,324.1 318.2,324.2 318.7,324.4 319.2,324.5 319.7,324.7 320.2,324.8 320.7,325.0 321.2,325.1 321.7,325.3 322.2,325.4 322.7,325.6 323.2,325.8 323.7,325.9 324.2,326.1 324.7,326.3 325.2,326.5 325.7,326.6 326.2,326.8 326.7,327.0 327.2,327.2 327.7,327.4 328.2,327.5 328.7,327.7 329.2,327.9 329.7,328.1 330.2,328.3 330.7,328.4 331.2,328.6 331.7,328.8 332.2,329.0 332.7,329.2 333.2,329.3 333.7,329.5 334.2,329.7 334.7,329.9 335.2,330.1 335.7,330.2 336.2,330.4 336.7,330.6 337.2,330.7 337.7,330.9 338.2,331.1 338.7,331.2 339.2,331.4 339.7,331.6 340.2,331.7 340.7,331.9 341.2,332.0 341.7,332.2 342.2,332.3 342.7,332.5 343.2,332.6 343.7,332.8 344.2,332.9 344.7,333.1 345.2,333.2 345.7,333.3 346.2,333.5 346.7,333.6 347.2,333.7 347.7,333.9 348.2,334.0 348.7,334.1 349.2,334.2 349.7,334.3 350.2,334.4 350.7,334.6 351.2,334.7 351.7,334.8 352.2,334.9 352.7,335.0 353.2,335.1 353.7,335.2 354.2,335.3 354.7,335.4 355.2,335.5 355.7,335.6 356.2,335.7 356.7,335.7 357.2,335.8 357.7,335.9 358.2,336.0 358.7,336.1 359.2,336.1 359.7,336.2 360.2,336.3 360.7,336.4 361.2,336.4 361.7,336.5 362.2,336.6 362.7,336.6 363.2,336.7 363.7,336.7 364.2,336.8 364.7,336.9 365.2,336.9 365.7,337.0 366.2,337.0 366.7,337.1 367.2,337.1 367.7,337.2 368.2,337.2 368.7,337.3 369.2,337.3 369.7,337.4 370.2,337.4 370.7,337.4 371.2,337.5 371.7,337.5 372.2,337.6 372.7,337.6 373.2,337.6 373.7,337.7 374.2,337.7 374.7,337.7 375.2,337.8 375.7,337.8 376.2,337.8 376.7,337.8 377.2,337.9 377.7,337.9 378.2,337.9 378.7,338.0 379.2,338.0 379.7,338.0 380.2,338.0 380.7,338.0 381.2,338.1 381.7,338.1 382.2,338.1 382.7,338.1 383.2,338.2 383.7,338.2 384.2,338.2 384.7,338.2 385.2,338.2 385.7,338.2 386.2,338.3 386.7,338.3 387.2,338.3 387.7,338.3 388.2,338.3 388.7,338.3 389.2,338.4 389.7,338.4 390.2,338.4 390.7,338.4 391.2,338.4 391.7,338.4 392.2,338.4 392.7,338.4 393.2,338.5 393.7,338.5 394.2,338.5 394.7,338.5 395.2,338.5 395.7,338.5 396.2,338.5 396.7,338.5 397.2,338.5 397.7,338.6 398.2,338.6 398.7,338.6 399.2,338.6 399.7,338.6 400.2,338.6 400.7,338.6 401.2,338.6 401.7,338.6 402.2,338.6 402.7,338.6 403.2,338.6 403.7,338.7 404.2,338.7 404.7,338.7 405.2,338.7 405.7,338.7 406.2,338.7 406.7,338.7 407.2,338.7 407.7,338.7 408.2,338.7 408.7,338.7 409.2,338.7 409.7,338.7 410.2,338.7 410.7,338.8 411.2,338.8 411.7,338.8 412.2,338.8 412.7,338.8 413.2,338.8 413.7,338.8 414.2,338.8 414.7,338.8 415.2,338.8 415.7,338.8 416.2,338.8 416.7,338.8 417.2,338.8 417.7,338.8 418.2,338.8 418.7,338.8 419.2,338.8 419.7,338.8 420.2,338.9 420.7,338.9 421.2,338.9 421.7,338.9 422.2,338.9 422.7,338.9 423.2,338.9 423.7,338.9 424.2,338.9 424.7,338.9 425.2,338.9 425.7,338.9 426.2,338.9 426.7,338.9 427.2,338.9 427.7,338.9 428.2,338.9 428.7,338.9 429.2,338.9 429.7,338.9 430.2,338.9 430.7,338.9 431.2,338.9 431.7,338.9 432.2,339.0 432.7,339.0 433.2,339.0 433.7,339.0 434.2,339.0 434.7,339.0 435.2,339.0 435.7,339.0 436.2,339.0 436.7,339.0 437.2,339.0 437.7,339.0 438.2,339.0 438.7,339.0 439.2,339.0 439.7,339.0 440.2,339.0 440.7,339.0 441.2,339.0 441.7,339.0 442.2,339.0 442.7,339.0 443.2,339.0 443.7,339.0 444.2,339.0 444.7,339.0 445.2,339.0 445.7,339.0 446.2,339.0 446.7,339.0 447.2,339.0 447.7,339.0 448.2,339.0 448.7,339.0 449.2,339.1 449.7,339.1 450.2,339.1 450.7,339.1 451.2,339.1 451.7,339.1 452.2,339.1 452.7,339.1 453.2,339.1 453.7,339.1 454.2,339.1 454.7,339.1 455.2,339.1 455.7,339.1 456.2,339.1 456.7,339.1 457.2,339.1 457.7,339.1 458.2,339.1 458.7,339.1 459.2,339.1 459.7,339.1 460.2,339.1 460.7,339.1 461.2,339.1 461.7,339.1 462.2,339.1 462.7,339.1 463.2,339.1 463.7,339.1 464.2,339.1 464.7,339.1 465.2,339.1 465.7,339.1 466.2,339.1 466.7,339.1 467.2,339.1 467.7,339.1 468.2,339.1 468.7,339.1 469.2,339.1 469.7,339.1 470.2,339.1 470.7,339.1 471.2,339.1 471.7,339.1 472.2,339.1 472.7,339.1 473.2,339.1 473.7,339.1 474.2,339.1 474.7,339.1 475.2,339.2 475.7,339.2 476.2,339.2 476.7,339.2 477.2,339.2 477.7,339.2 478.2,339.2 478.7,339.2 479.2,339.2 479.7,339.2 480.2,339.2 480.7,339.2 481.2,339.2 481.7,339.2 482.2,339.2 482.7,339.2 483.2,339.2 483.7,339.2 484.2,339.2 484.7,339.2 485.2,339.2 485.7,339.2 486.2,339.2 486.7,339.2 487.2,339.2 487.7,339.2 488.2,339.2 488.7,339.2 489.2,339.2 489.7,339.2 490.2,339.2 490.7,339.2 491.2,339.2 491.7,339.2 492.2,339.2 492.7,339.2 493.2,339.2 493.7,339.2 494.2,339.2 494.7,339.2 495.2,339.2 495.7,339.2 496.2,339.2 496.7,339.2 497.2,339.2 497.7,339.2 498.2,339.2 498.7,339.2 499.2,339.2 499.7,339.2 500.2,339.2 500.7,339.2 501.2,339.2 501.7,339.2 502.2,339.2 502.7,339.2 503.2,339.2 503.7,339.2 504.2,339.2 504.7,339.2 505.2,339.2 505.7,339.2 506.2,339.2 506.7,339.2 507.2,339.2 507.7,339.2 508.2,339.2 508.7,339.2 509.2,339.2 509.7,339.2 510.2,339.2 510.7,339.2 511.2,339.2 511.7,339.2 512.2,339.2 512.7,339.2 513.2,339.2 513.7,339.2 514.2,339.2 514.7,339.2 515.2,339.2 515.7,339.2 516.2,339.2 516.7,339.2 517.2,339.2 517.7,339.2 518.2,339.2 518.7,339.2 519.2,339.2 519.7,339.2 520.2,339.2 520.7,339.2 521.2,339.2 521.7,339.2 522.2,339.2 522.7,339.3 523.2,339.3 523.7,339.3 524.2,339.3 524.7,339.3 525.2,339.3 525.7,339.3 526.2,339.3 526.7,339.3 527.2,339.3 527.7,339.3 528.2,339.3 528.7,339.3 529.2,339.3 529.7,339.3 530.2,339.3 530.7,339.3 531.2,339.3 531.7,339.3 532.2,339.3 532.7,339.3 533.2,339.3 533.7,339.3 534.2,339.3 534.7,339.3 535.2,339.3 535.7,339.3 536.2,339.3 536.7,339.3 537.2,339.3 537.7,339.3 538.2,339.3 538.7,339.3 539.2,339.3 539.7,339.3" stroke="#ff8000" stroke-width="1.7"/>
<polyline points="57.2,341.0 57.7,341.0 58.2,341.0 58.7,341.0 59.2,341.0 59.7,341.0 60.2,341.0 60.7,340.9 61.2,340.9 61.7,340.9 62.2,340.9 62.7,340.9 63.2,340.9 63.7,340.9 64.2,340.9 64.7,340.9 65.2,340.9 65.7,340.9 66.2,340.9 66.7,340.9 67.2,340.9 67.7,340.9 68.2,340.9 68.7,340.9 69.2,340.9 69.7,340.9 70.2,340.9 70.7,340.9 71.2,340.9 71.7,340.9 72.2,340.9 72.7,340.9 73.2,340.9 73.7,340.9 74.2,340.9 74.7,340.9 75.2,340.9 75.7,340.9 76.2,340.9 76.7,340.9 77.2,340.9 77.7,340.9 78.2,340.9 78.7,340.9 79.2,340.9 79.7,340.9 80.2,340.9 80.7,340.9 81.2,340.9 81.7,340.9 82.2,340.9 82.7,340.9 83.2,340.9 83.7,340.9 84.2,340.9 84.7,340.9 85.2,340.9 85.7,340.9 86.2,340.9 86.7,340.9 87.2,340.9 87.7,340.9 88.2,340.9 88.7,340.9 89.2,340.9 89.7,340.9 90.2,340.9 90.7,340.9 91.2,340.9 91.7,340.9 92.2,340.9 92.7,340.9 93.2,340.9 93.7,340.9 94.2,340.9 94.7,340.9 95.2,340.9 95.7,340.9 96.2,340.9 96.7,340.9 97.2,340.9 97.7,340.9 98.2,340.9 98.7,340.9 99.2,340.9 99.7,340.9 100.2,340.9 100.7,340.9 101.2,340.9 101.7,340.9 102.2,340.9 102.7,340.9 103.2,340.9 103.7,340.9 104.2,340.9 104.7,340.9 105.2,340.9 105.7,340.9 106.2,340.9 106.7,340.9 107.2,340.9 107.7,340.9 108.2,340.9 108.7,340.9 109.2,340.9 109.7,340.9 110.2,340.9 110.7,340.9 111.2,340.9 111.7,340.9 112.2,340.9 112.7,340.9 113.2,340.9 113.7,340.9 114.2,340.9 114.7,340.9 115.2,340.9 115.7,340.9 116.2,340.9 116.7,340.9 117.2,340.9 117.7,340.9 118.2,340.9 118.7,340.9 119.2,340.9 119.7,340.9 120.2,340.9 120.7,340.9 121.2,340.9 121.7,340.9 122.2,340.9 122.7,340.9 123.2,340.9 123.7,340.9 124.2,340.9 124.7,340.9 125.2,340.9 125.7,340.9 126.2,340.9 126.7,340.9 127.2,340.9 127.7,340.9 128.2,340.9 128.7,340.9 129.2,340.9 129.7,340.9 130.2,340.9 130.7,340.9 131.2,340.9 131.7,340.9 132.2,340.9 132.7,340.9 133.2,340.9 133.7,340.9 134.2,340.9 134.7,340.9 135.2,340.9 135.7,340.9 136.2,340.9 136.7,340.9 137.2,340.9 137.7,340.9 138.2,340.9 138.7,340.9 139.2,340.9 139.7,340.9 140.2,340.9 140.7,340.9 141.2,340.9 141.7,340.9 142.2,340.9 142.7,340.9 143.2,340.9 143.7,340.9 144.2,340.9 144.7,340.9 145.2,340.9 145.7,340.9 146.2,340.9 146.7,340.9 147.2,340.9 147.7,340.9 148.2,340.9 148.7,340.9 149.2,340.9 149.7,340.9 150.2,340.9 150.7,340.9 151.2,340.9 151.7,340.9 152.2,340.9 152.7,340.9 153.2,340.9 153.7,340.9 154.2,340.9 154.7,340.9 155.2,340.9 155.7,340.9 156.2,340.9 156.7,340.9 157.2,340.9 157.7,340.9 158.2,340.9 158.7,340.9 159.2,340.9 159.7,340.9 160.2,340.9 160.7,340.9 161.2,340.9 161.7,340.9 162.2,340.9 162.7,340.9 163.2,340.9 163.7,340.9 164.2,340.9 164.7,340.9 165.2,340.9 165.7,340.9 166.2,340.9 166.7,340.9 167.2,340.9 167.7,340.9 168.2,340.9 168.7,340.9 169.2,340.9 169.7,340.9 170.2,340.9 170.7,340.9 171.2,340.9 171.7,340.9 172.2,340.9 172.7,340.9 173.2,340.9 173.7,340.9 174.2,340.9 174.7,340.9 175.2,340.9 175.7,340.9 176.2,340.9 176.7,340.9 177.2,340.9 177.7,340.9 178.2,340.9 178.7,340.9 179.2,340.9 179.7,340.9 180.2,340.9 180.7,340.9 181.2,340.9 181.7,340.9 182.2,340.9 182.7,340.9 183.2,340.9 183.7,340.9 184.2,340.9 184.7,340.9 185.2,340.9 185.7,340.9 186.2,340.9 186.7,340.9 187.2,340.9 187.7,340.9 188.2,340.9 188.7,340.9 189.2,340.9 189.7,340.9 190.2,340.9 190.7,340.9 191.2,340.9 191.7,340.9 192.2,340.9 192.7,340.9 193.2,340.9 193.7,340.9 194.2,340.9 194.7,340.9 195.2,340.9 195.7,340.8 196.2,340.8 196.7,340.8 197.2,340.8 197.7,340.8 198.2,340.8 198.7,340.8 199.2,340.8 199.7,340.8 200.2,340.8 200.7,340.8 201.2,340.8 201.7,340.8 202.2,340.8 202.7,340.8 203.2,340.8 203.7,340.8 204.2,340.8 204.7,340.8 205.2,340.8 205.7,340.8 206.2,340.8 206.7,340.8 207.2,340.8 207.7,340.8 208.2,340.8 208.7,340.8 209.2,340.8 209.7,340.8 210.2,340.8 210.7,340.8 211.2,340.8 211.7,340.8 212.2,340.8 212.7,340.8 213.2,340.8 213.7,340.8 214.2,340.8 214.7,340.8 215.2,340.8 215.7,340.8 216.2,340.8 216.7,340.8 217.2,340.8 217.7,340.8 218.2,340.8 218.7,340.8 219.2,340.8 219.7,340.8 220.2,340.8 220.7,340.8 221.2,340.8 221.7,340.8 222.2,340.8 222.7,340.8 223.2,340.8 223.7,340.8 224.2,340.8 224.7,340.8 225.2,340.8 225.7,340.8 226.2,340.8 226.7,340.8 227.2,340.8 227.7,340.8 228.2,340.8 228.7,340.8 229.2,340.8 229.7,340.8 230.2,340.8 230.7,340.8 231.2,340.8 231.7,340.8 232.2,340.8 232.7,340.8 233.2,340.8 233.7,340.8 234.2,340.8 234.7,340.8 235.2,340.8 235.7,340.8 236.2,340.8 236.7,340.8 237.2,340.8 237.7,340.7 238.2,340.7 238.7,340.7 239.2,340.7 239.7,340.7 240.2,340.7 240.7,340.7 241.2,340.7 241.7,340.7 242.2,340.7 242.7,340.7 243.2,340.7 243.7,340.7 244.2,340.7 244.7,340.7 245.2,340.7 245.7,340.7 246.2,340.7 246.7,340.7 247.2,340.7 247.7,340.7 248.2,340.7 248.7,340.7 249.2,340.7 249.7,340.7 250.2,340.7 250.7,340.7 251.2,340.7 251.7,340.7 252.2,340.7 252.7,340.7 253.2,340.7 253.7,340.7 254.2,340.7 254.7,340.7 255.2,340.7 255.7,340.7 256.2,340.7 256.7,340.7 257.2,340.7 257.7,340.7 258.2,340.7 258.7,340.7 259.2,340.7 259.7,340.6 260.2,340.6 260.7,340.6 261.2,340.6 261.7,340.6 262.2,340.6 262.7,340.6 263.2,340.6 263.7,340.6 264.2,340.6 264.7,340.6 265.2,340.6 265.7,340.6 266.2,340.6 266.7,340.6 267.2,340.6 267.7,340.6 268.2,340.6 268.7,340.6 269.2,340.6 269.7,340.6 270.2,340.6 270.7,340.6 271.2,340.6 271.7,340.6 272.2,340.6 272.7,340.6 273.2,340.6 273.7,340.6 274.2,340.5 274.7,340.5 275.2,340.5 275.7,340.5 276.2,340.5 276.7,340.5 277.2,340.5 277.7,340.5 278.2,340.5 278.7,340.5 279.2,340.5 279.7,340.5 280.2,340.5 280.7,340.5 281.2,340.5 281.7,340.5 282.2,340.5 282.7,340.5 283.2,340.5 283.7,340.5 284.2,340.4 284.7,340.4 285.2,340.4 285.7,340.4 286.2,340.4 286.7,340.4 287.2,340.4 287.7,340.4 288.2,340.4 288.7,340.4 289.2,340.4 289.7,340.4 290.2,340.4 290.7,340.4 291.2,340.4 291.7,340.4 292.2,340.3 292.7,340.3 293.2,340.3 293.7,340.3 294.2,340.3 294.7,340.3 295.2,340.3 295.7,340.3 296.2,340.3 296.7,340.3 297.2,340.3 297.7,340.3 298.2,340.2 298.7,340.2 299.2,340.2 299.7,340.2 300.2,340.2 300.7,340.2 301.2,340.2 301.7,340.2 302.2,340.2 302.7,340.2 303.2,340.2 303.7,340.1 304.2,340.1 304.7,340.1 305.2,340.1 305.7,340.1 306.2,340.1 306.7,340.1 307.2,340.1 307.7,340.0 308.2,340.0 308.7,340.0 309.2,340.0 309.7,340.0 310.2,340.0 310.7,340.0 311.2,339.9 311.7,339.9 312.2,339.9 312.7,339.9 313.2,339.9 313.7,339.9 314.2,339.9 314.7,339.8 315.2,339.8 315.7,339.8 316.2,339.8 316.7,339.8 317.2,339.7 317.7,339.7 318.2,339.7 318.7,339.7 319.2,339.7 319.7,339.6 320.2,339.6 320.7,339.6 321.2,339.6 321.7,339.6 322.2,339.5 322.7,339.5 323.2,339.5 323.7,339.5 324.2,339.4 324.7,339.4 325.2,339.4 325.7,339.3 326.2,339.3 326.7,339.3 327.2,339.3 327.7,339.2 328.2,339.2 328.7,339.2 329.2,339.1 329.7,339.1 330.2,339.1 330.7,339.0 331.2,339.0 331.7,338.9 332.2,338.9 332.7,338.9 333.2,338.8 333.7,338.8 334.2,338.7 334.7,338.7 335.2,338.6 335.7,338.6 336.2,338.5 336.7,338.5 337.2,338.4 337.7,338.4 338.2,338.3 338.7,338.2 339.2,338.2 339.7,338.1 340.2,338.1 340.7,338.0 341.2,337.9 341.7,337.8 342.2,337.8 342.7,337.7 343.2,337.6 343.7,337.5 344.2,337.4 344.7,337.4 345.2,337.3 345.7,337.2 346.2,337.1 346.7,337.0 347.2,336.9 347.7,336.8 348.2,336.6 348.7,336.5 349.2,336.4 349.7,336.3 350.2,336.1 350.7,336.0 351.2,335.9 351.7,335.7 352.2,335.6 352.7,335.4 353.2,335.2 353.7,335.0 354.2,334.9 354.7,334.7 355.2,334.5 355.7,334.3 356.2,334.1 356.7,333.8 357.2,333.6 357.7,333.4 358.2,333.1 358.7,332.8 359.2,332.6 359.7,332.3 360.2,332.0 360.7,331.7 361.2,331.3 361.7,331.0 362.2,330.6 362.7,330.3 363.2,329.9 363.7,329.5 364.2,329.1 364.7,328.6 365.2,328.2 365.7,327.7 366.2,327.2 366.7,326.7 367.2,326.2 367.7,325.7 368.2,325.1 368.7,324.6 369.2,324.0 369.7,323.4 370.2,322.8 370.7,322.2 371.2,321.6 371.7,321.0 372.2,320.4 372.7,319.8 373.2,319.3 373.7,318.7 374.2,318.1 374.7,317.6 375.2,317.1 375.7,316.7 376.2,316.3 376.7,315.9 377.2,315.6 377.7,315.4 378.2,315.2 378.7,315.1 379.2,315.0 379.7,315.0 380.2,315.1 380.7,315.2 381.2,315.3 381.7,315.5 382.2,315.7 382.7,316.0 383.2,316.3 383.7,316.6 384.2,317.0 384.7,317.4 385.2,317.9 385.7,318.3 386.2,318.8 386.7,319.2 387.2,319.7 387.7,320.2 388.2,320.8 388.7,321.3 389.2,321.8 389.7,322.3 390.2,322.8 390.7,323.3 391.2,323.8 391.7,324.3 392.2,324.8 392.7,325.2 393.2,325.7 393.7,326.1 394.2,326.6 394.7,327.0 395.2,327.4 395.7,327.8 396.2,328.2 396.7,328.6 397.2,329.0 397.7,329.3 398.2,329.7 398.7,330.0 399.2,330.3 399.7,330.7 400.2,331.0 400.7,331.2 401.2,331.5 401.7,331.8 402.2,332.1 402.7,332.3 403.2,332.6 403.7,332.8 404.2,333.0 404.7,333.2 405.2,333.4 405.7,333.7 406.2,333.9 406.7,334.0 407.2,334.2 407.7,334.4 408.2,334.6 408.7,334.7 409.2,334.9 409.7,335.1 410.2,335.2 410.7,335.3 411.2,335.5 411.7,335.6 412.2,335.7 412.7,335.9 413.2,336.0 413.7,336.1 414.2,336.2 414.7,336.3 415.2,336.4 415.7,336.5 416.2,336.6 416.7,336.7 417.2,336.8 417.7,336.9 418.2,337.0 418.7,337.1 419.2,337.2 419.7,337.3 420.2,337.3 420.7,337.4 421.2,337.5 421.7,337.6 422.2,337.6 422.7,337.7 423.2,337.8 423.7,337.8 424.2,337.9 424.7,338.0 425.2,338.0 425.7,338.1 426.2,338.1 426.7,338.2 427.2,338.2 427.7,338.3 428.2,338.3 428.7,338.4 429.2,338.4 429.7,338.5 430.2,338.5 430.7,338.6 431.2,338.6 431.7,338.6 432.2,338.7 432.7,338.7 433.2,338.8 433.7,338.8 434.2,338.8 434.7,338.9 435.2,338.9 435.7,338.9 436.2,339.0 436.7,339.0 437.2,339.0 437.7,339.1 438.2,339.1 438.7,339.1 439.2,339.2 439.7,339.2 440.2,339.2 440.7,339.2 441.2,339.3 441.7,339.3 442.2,339.3 442.7,339.3 443.2,339.4 443.7,339.4 444.2,339.4 444.7,339.4 445.2,339.5 445.7,339.5 446.2,339.5 446.7,339.5 447.2,339.5 447.7,339.6 448.2,339.6 448.7,339.6 449.2,339.6 449.7,339.6 450.2,339.7 450.7,339.7 451.2,339.7 451.7,339.7 452.2,339.7 452.7,339.7 453.2,339.8 453.7,339.8 454.2,339.8 454.7,339.8 455.2,339.8 455.7,339.8 456.2,339.9 456.7,339.9 457.2,339.9 457.7,339.9 458.2,339.9 458.7,339.9 459.2,339.9 459.7,339.9 460.2,340.0 460.7,340.0 461.2,340.0 461.7,340.0 462.2,340.0 462.7,340.0 463.2,340.0 463.7,340.0 464.2,340.1 464.7,340.1 465.2,340.1 465.7,340.1 466.2,340.1 466.7,340.1 467.2,340.1 467.7,340.1 468.2,340.1 468.7,340.1 469.2,340.2 469.7,340.2 470.2,340.2 470.7,340.2 471.2,340.2 471.7,340.2 472.2,340.2 472.7,340.2 473.2,340.2 473.7,340.2 474.2,340.2 474.7,340.2 475.2,340.3 475.7,340.3 476.2,340.3 476.7,340.3 477.2,340.3 477.7,340.3 478.2,340.3 478.7,340.3 479.2,340.3 479.7,340.3 480.2,340.3 480.7,340.3 481.2,340.3 481.7,340.3 482.2,340.3 482.7,340.4 483.2,340.4 483.7,340.4 484.2,340.4 484.7,340.4 485.2,340.4 485.7,340.4 486.2,340.4 486.7,340.4 487.2,340.4 487.7,340.4 488.2,340.4 488.7,340.4 489.2,340.4 489.7,340.4 490.2,340.4 490.7,340.4 491.2,340.4 491.7,340.5 492.2,340.5 492.7,340.5 493.2,340.5 493.7,340.5 494.2,340.5 494.7,340.5 495.2,340.5 495.7,340.5 496.2,340.5 496.7,340.5 497.2,340.5 497.7,340.5 498.2,340.5 498.7,340.5 499.2,340.5 499.7,340.5 500.2,340.5 500.7,340.5 501.2,340.5 501.7,340.5 502.2,340.5 502.7,340.5 503.2,340.5 503.7,340.5 504.2,340.6 504.7,340.6 505.2,340.6 505.7,340.6 506.2,340.6 506.7,340.6 507.2,340.6 507.7,340.6 508.2,340.6 508.7,340.6 509.2,340.6 509.7,340.6 510.2,340.6 510.7,340.6 511.2,340.6 511.7,340.6 512.2,340.6 512.7,340.6 513.2,340.6 513.7,340.6 514.2,340.6 514.7,340.6 515.2,340.6 515.7,340.6 516.2,340.6 516.7,340.6 517.2,340.6 517.7,340.6 518.2,340.6 518.7,340.6 519.2,340.6 519.7,340.6 520.2,340.6 520.7,340.7 521.2,340.7 521.7,340.7 522.2,340.7 522.7,340.7 523.2,340.7 523.7,340.7 524.2,340.7 524.7,340.7 525.2,340.7 525.7,340.7 526.2,340.7 526.7,340.7 527.2,340.7 527.7,340.7 528.2,340.7 528.7,340.7 529.2,340.7 529.7,340.7 530.2,340.7 530.7,340.7 531.2,340.7 531.7,340.7 532.2,340.7 532.7,340.7 533.2,340.7 533.7,340.7 534.2,340.7 534.7,340.7 535.2,340.7 535.7,340.7 536.2,340.7 536.7,340.7 537.2,340.7 537.7,340.7 538.2,340.7 538.7,340.7 539.2,340.7 539.7,340.7" stroke="#808000" stroke-width="1.7"/>
<polyline points="57.2,338.3 57.7,338.3 58.2,338.3 58.7,338.2 59.2,338.2 59.7,338.2 60.2,338.2 60.7,338.2 61.2,338.2 61.7,338.1 62.2,338.1 62.7,338.1 63.2,338.1 63.7,338.1 64.2,338.1 64.7,338.0 65.2,338.0 65.7,338.0 66.2,338.0 66.7,338.0 67.2,338.0 67.7,337.9 68.2,337.9 68.7,337.9 69.2,337.9 69.7,337.9 70.2,337.8 70.7,337.8 71.2,337.8 71.7,337.8 72.2,337.8 72.7,337.7 73.2,337.7 73.7,337.7 74.2,337.7 74.7,337.7 75.2,337.6 75.7,337.6 76.2,337.6 76.7,337.6 77.2,337.6 77.7,337.5 78.2,337.5 78.7,337.5 79.2,337.5 79.7,337.4 80.2,337.4 80.7,337.4 81.2,337.4 81.7,337.3 82.2,337.3 82.7,337.3 83.2,337.2 83.7,337.2 84.2,337.2 84.7,337.1 85.2,337.1 85.7,337.1 86.2,337.0 86.7,337.0 87.2,337.0 87.7,336.9 88.2,336.9 88.7,336.9 89.2,336.8 89.7,336.8 90.2,336.8 90.7,336.7 91.2,336.7 91.7,336.7 92.2,336.6 92.7,336.6 93.2,336.6 93.7,336.5 94.2,336.5 94.7,336.5 95.2,336.4 95.7,336.4 96.2,336.3 96.7,336.3 97.2,336.3 97.7,336.2 98.2,336.2 98.7,336.2 99.2,336.1 99.7,336.1 100.2,336.0 100.7,336.0 101.2,336.0 101.7,335.9 102.2,335.9 102.7,335.9 103.2,335.8 103.7,335.8 104.2,335.8 104.7,335.7 105.2,335.7 105.7,335.6 106.2,335.6 106.7,335.6 107.2,335.5 107.7,335.5 108.2,335.4 108.7,335.4 109.2,335.4 109.7,335.3 110.2,335.3 110.7,335.2 111.2,335.2 111.7,335.1 112.2,335.1 112.7,335.1 113.2,335.0 113.7,335.0 114.2,334.9 114.7,334.9 115.2,334.8 115.7,334.8 116.2,334.7 116.7,334.7 117.2,334.6 117.7,334.6 118.2,334.5 118.7,334.5 119.2,334.4 119.7,334.4 120.2,334.3 120.7,334.3 121.2,334.3 121.7,334.3 122.2,334.3 122.7,334.2 123.2,334.2 123.7,334.2 124.2,334.2 124.7,334.2 125.2,334.1 125.7,334.1 126.2,334.1 126.7,334.0 127.2,334.0 127.7,334.0 128.2,334.0 128.7,333.9 129.2,333.9 129.7,333.9 130.2,333.8 130.7,333.8 131.2,333.8 131.7,333.7 132.2,333.7 132.7,333.7 133.2,333.6 133.7,333.6 134.2,333.5 134.7,333.5 135.2,333.4 135.7,333.4 136.2,333.3 136.7,333.2 137.2,333.2 137.7,333.1 138.2,333.0 138.7,332.9 139.2,332.8 139.7,332.8 140.2,332.7 140.7,332.6 141.2,332.5 141.7,332.4 142.2,332.3 142.7,332.3 143.2,332.2 143.7,332.1 144.2,332.0 144.7,331.9 145.2,331.8 145.7,331.7 146.2,331.6 146.7,331.5 147.2,331.4 147.7,331.3 148.2,331.2 148.7,331.1 149.2,331.0 149.7,330.8 150.2,330.7 150.7,330.6 151.2,330.5 151.7,330.4 152.2,330.2 152.7,330.1 153.2,330.0 153.7,329.9 154.2,329.7 154.7,329.6 155.2,329.5 155.7,329.3 156.2,329.2 156.7,329.0 157.2,328.9 157.7,328.7 158.2,328.6 158.7,328.4 159.2,328.2 159.7,328.1 160.2,327.9 160.7,327.7 161.2,327.6 161.7,327.4 162.2,327.2 162.7,327.0 163.2,326.8 163.7,326.6 164.2,326.4 164.7,326.2 165.2,326.0 165.7,325.8 166.2,325.6 166.7,325.4 167.2,325.2 167.7,324.9 168.2,324.7 168.7,324.5 169.2,324.2 169.7,324.0 170.2,323.7 170.7,323.4 171.2,323.2 171.7,322.9 172.2,322.6 172.7,322.3 173.2,322.0 173.7,321.7 174.2,321.4 174.7,321.1 175.2,320.8 175.7,320.5 176.2,320.1 176.7,319.8 177.2,319.5 177.7,319.1 178.2,318.7 178.7,318.4 179.2,318.0 179.7,317.6 180.2,317.2 180.7,316.8 181.2,316.4 181.7,315.9 182.2,315.5 182.7,315.0 183.2,314.6 183.7,314.1 184.2,313.6 184.7,313.1 185.2,312.6 185.7,312.1 186.2,311.5 186.7,311.0 187.2,310.4 187.7,309.8 188.2,309.2 188.7,308.6 189.2,308.0 189.7,307.3 190.2,306.7 190.7,306.0 191.2,305.4 191.7,304.7 192.2,304.0 192.7,303.3 193.2,302.5 193.7,301.8 194.2,301.0 194.7,300.3 195.2,299.5 195.7,298.7 196.2,297.9 196.7,297.1 197.2,296.3 197.7,295.5 198.2,294.6 198.7,293.8 199.2,292.9 199.7,292.1 200.2,291.2 200.7,290.4 201.2,289.5 201.7,288.7 202.2,287.8 202.7,287.0 203.2,286.1 203.7,285.3 204.2,284.4 204.7,283.6 205.2,282.8 205.7,282.0 206.2,281.2 206.7,280.4 207.2,279.6 207.7,278.9 208.2,278.2 208.7,277.4 209.2,276.8 209.7,276.1 210.2,275.5 210.7,274.9 211.2,274.4 211.7,273.9 212.2,273.4 212.7,273.0 213.2,272.6 213.7,272.2 214.2,271.9 214.7,271.7 215.2,271.5 215.7,271.3 216.2,271.2 216.7,271.1 217.2,271.1 217.7,271.2 218.2,271.3 218.7,271.4 219.2,271.5 219.7,271.7 220.2,272.0 220.7,272.2 221.2,272.6 221.7,272.9 222.2,273.3 222.7,273.7 223.2,274.1 223.7,274.6 224.2,275.1 224.7,275.7 225.2,276.2 225.7,276.8 226.2,277.4 226.7,278.0 227.2,278.7 227.7,279.3 228.2,280.0 228.7,280.7 229.2,281.4 229.7,282.1 230.2,282.8 230.7,283.5 231.2,284.2 231.7,285.0 232.2,285.7 232.7,286.4 233.2,287.2 233.7,287.9 234.2,288.6 234.7,289.3 235.2,290.1 235.7,290.8 236.2,291.5 236.7,292.2 237.2,292.9 237.7,293.6 238.2,294.2 238.7,294.9 239.2,295.6 239.7,296.2 240.2,296.9 240.7,297.5 241.2,298.1 241.7,298.7 242.2,299.3 242.7,299.9 243.2,300.5 243.7,301.0 244.2,301.6 244.7,302.1 245.2,302.6 245.7,303.1 246.2,303.6 246.7,304.1 247.2,304.6 247.7,305.1 248.2,305.5 248.7,306.0 249.2,306.4 249.7,306.8 250.2,307.2 250.7,307.6 251.2,308.0 251.7,308.4 252.2,308.7 252.7,309.1 253.2,309.4 253.7,309.8 254.2,310.1 254.7,310.4 255.2,310.7 255.7,311.0 256.2,311.2 256.7,311.5 257.2,311.8 257.7,312.0 258.2,312.2 258.7,312.5 259.2,312.7 259.7,312.9 260.2,313.1 260.7,313.3 261.2,313.5 261.7,313.6 262.2,313.8 262.7,313.9 263.2,314.1 263.7,314.2 264.2,314.3 264.7,314.5 265.2,314.6 265.7,314.7 266.2,314.8 266.7,314.9 267.2,314.9 267.7,315.0 268.2,315.1 268.7,315.1 269.2,315.2 269.7,315.2 270.2,315.2 270.7,315.3 271.2,315.3 271.7,315.3 272.2,315.3 272.7,315.3 273.2,315.3 273.7,315.3 274.2,315.3 274.7,315.2 275.2,315.2 275.7,315.1 276.2,315.1 276.7,315.0 277.2,315.0 277.7,314.9 278.2,314.8 278.7,314.8 279.2,314.7 279.7,314.6 280.2,314.5 280.7,314.4 281.2,314.3 281.7,314.2 282.2,314.1 282.7,313.9 283.2,313.8 283.7,313.7 284.2,313.5 284.7,313.4 285.2,313.3 285.7,313.1 286.2,313.0 286.7,312.8 287.2,312.6 287.7,312.5 288.2,312.3 288.7,312.1 289.2,312.0 289.7,311.8 290.2,311.6 290.7,311.4 291.2,311.2 291.7,311.0 292.2,310.8 292.7,310.6 293.2,310.4 293.7,310.2 294.2,310.0 294.7,309.8 295.2,309.6 295.7,309.4 296.2,309.2 296.7,309.0 297.2,308.8 297.7,308.6 298.2,308.4 298.7,308.2 299.2,308.0 299.7,307.8 300.2,307.6 300.7,307.3 301.2,307.1 301.7,306.9 302.2,306.7 302.7,306.5 303.2,306.3 303.7,306.1 304.2,305.9 304.7,305.7 305.2,305.5 305.7,305.3 306.2,305.1 306.7,304.9 307.2,304.7 307.7,304.4 308.2,304.2 308.7,304.0 309.2,303.8 309.7,303.6 310.2,303.4 310.7,303.2 311.2,303.0 311.7,302.7 312.2,302.5 312.7,302.3 313.2,302.1 313.7,301.8 314.2,301.6 314.7,301.3 315.2,301.1 315.7,300.8 316.2,300.5 316.7,300.2 317.2,299.9 317.7,299.6 318.2,299.3 318.7,298.9 319.2,298.6 319.7,298.2 320.2,297.8 320.7,297.4 321.2,297.0 321.7,296.5 322.2,296.0 322.7,295.5 323.2,295.0 323.7,294.4 324.2,293.8 324.7,293.2 325.2,292.5 325.7,291.8 326.2,291.0 326.7,290.3 327.2,289.4 327.7,288.5 328.2,287.6 328.7,286.6 329.2,285.5 329.7,284.4 330.2,283.2 330.7,282.0 331.2,280.6 331.7,279.2 332.2,277.7 332.7,276.1 333.2,274.4 333.7,272.6 334.2,270.7 334.7,268.6 335.2,266.5 335.7,264.1 336.2,261.7 336.7,259.0 337.2,256.3 337.7,253.3 338.2,250.1 338.7,246.7 339.2,243.1 339.7,239.3 340.2,235.2 340.7,230.8 341.2,226.1 341.7,221.2 342.2,215.9 342.7,210.3 343.2,204.3 343.7,198.0 344.2,191.3 344.7,184.2 345.2,176.7 345.7,168.9 346.2,160.6 346.7,152.0 347.2,143.1 347.7,133.9 348.2,124.5 348.7,115.0 349.2,105.4 349.7,95.9 350.2,86.6 350.7,77.7 351.2,69.3 351.7,61.7 352.2,55.0 352.7,49.4 353.2,45.0 353.7,42.0 354.2,40.5 354.7,40.5 355.2,42.0 355.7,44.9 356.2,49.2 356.7,54.8 357.2,61.4 357.7,68.9 358.2,77.2 358.7,85.9 359.2,95.1 359.7,104.4 360.2,113.8 360.7,123.1 361.2,132.3 361.7,141.3 362.2,149.9 362.7,158.3 363.2,166.2 363.7,173.8 364.2,181.0 364.7,187.7 365.2,194.1 365.7,200.1 366.2,205.7 366.7,210.9 367.2,215.8 367.7,220.4 368.2,224.7 368.7,228.6 369.2,232.3 369.7,235.7 370.2,238.9 370.7,241.9 371.2,244.6 371.7,247.2 372.2,249.5 372.7,251.8 373.2,253.8 373.7,255.8 374.2,257.6 374.7,259.3 375.2,260.9 375.7,262.5 376.2,264.0 376.7,265.5 377.2,266.9 377.7,268.3 378.2,269.7 378.7,271.1 379.2,272.5 379.7,273.8 380.2,275.2 380.7,276.5 381.2,277.8 381.7,279.1 382.2,280.4 382.7,281.7 383.2,283.0 383.7,284.3 384.2,285.6 384.7,286.9 385.2,288.1 385.7,289.4 386.2,290.6 386.7,291.8 387.2,293.0 387.7,294.2 388.2,295.4 388.7,296.5 389.2,297.7 389.7,298.8 390.2,299.8 390.7,300.9 391.2,301.9 391.7,302.8 392.2,303.8 392.7,304.7 393.2,305.6 393.7,306.5 394.2,307.4 394.7,308.2 395.2,309.0 395.7,309.8 396.2,310.6 396.7,311.3 397.2,312.0 397.7,312.7 398.2,313.4 398.7,314.0 399.2,314.6 399.7,315.2 400.2,315.8 400.7,316.4 401.2,317.0 401.7,317.5 402.2,318.0 402.7,318.5 403.2,319.0 403.7,319.5 404.2,319.9 404.7,320.4 405.2,320.8 405.7,321.2 406.2,321.6 406.7,322.0 407.2,322.4 407.7,322.8 408.2,323.1 408.7,323.5 409.2,323.8 409.7,324.1 410.2,324.4 410.7,324.7 411.2,325.0 411.7,325.3 412.2,325.6 412.7,325.8 413.2,326.1 413.7,326.3 414.2,326.6 414.7,326.8 415.2,327.0 415.7,327.3 416.2,327.5 416.7,327.7 417.2,327.9 417.7,328.1 418.2,328.3 418.7,328.5 419.2,328.7 419.7,328.8 420.2,329.0 420.7,329.2 421.2,329.4 421.7,329.5 422.2,329.7 422.7,329.8 423.2,330.0 423.7,330.1 424.2,330.3 424.7,330.4 425.2,330.6 425.7,330.7 426.2,330.8 426.7,330.9 427.2,331.1 427.7,331.2 428.2,331.3 428.7,331.4 429.2,331.5 429.7,331.6 430.2,331.8 430.7,331.9 431.2,332.0 431.7,332.1 432.2,332.2 432.7,332.3 433.2,332.4 433.7,332.5 434.2,332.5 434.7,332.6 435.2,332.7 435.7,332.8 436.2,332.9 436.7,333.0 437.2,333.1 437.7,333.1 438.2,333.2 438.7,333.3 439.2,333.4 439.7,333.4 440.2,333.5 440.7,333.6 441.2,333.7 441.7,333.7 442.2,333.8 442.7,333.9 443.2,333.9 443.7,334.0 444.2,334.1 444.7,334.1 445.2,334.2 445.7,334.2 446.2,334.3 446.7,334.4 447.2,334.4 447.7,334.5 448.2,334.5 448.7,334.6 449.2,334.6 449.7,334.7 450.2,334.7 450.7,334.8 451.2,334.8 451.7,334.9 452.2,334.9 452.7,335.0 453.2,335.0 453.7,335.1 454.2,335.1 454.7,335.2 455.2,335.2 455.7,335.2 456.2,335.3 456.7,335.3 457.2,335.4 457.7,335.4 458.2,335.4 458.7,335.5 459.2,335.5 459.7,335.6 460.2,335.6 460.7,335.6 461.2,335.7 461.7,335.7 462.2,335.7 462.7,335.8 463.2,335.8 463.7,335.8 464.2,335.9 464.7,335.9 465.2,335.9 465.7,336.0 466.2,336.0 466.7,336.0 467.2,336.1 467.7,336.1 468.2,336.1 468.7,336.1 469.2,336.2 469.7,336.2 470.2,336.2 470.7,336.3 471.2,336.3 471.7,336.3 472.2,336.4 472.7,336.4 473.2,336.4 473.7,336.5 474.2,336.5 474.7,336.5 475.2,336.5 475.7,336.6 476.2,336.6 476.7,336.6 477.2,336.7 477.7,336.7 478.2,336.7 478.7,336.7 479.2,336.8 479.7,336.8 480.2,336.8 480.7,336.9 481.2,336.9 481.7,336.9 482.2,336.9 482.7,337.0 483.2,337.0 483.7,337.0 484.2,337.0 484.7,337.1 485.2,337.1 485.7,337.1 486.2,337.1 486.7,337.1 487.2,337.2 487.7,337.2 488.2,337.2 488.7,337.2 489.2,337.3 489.7,337.3 490.2,337.3 490.7,337.3 491.2,337.3 491.7,337.4 492.2,337.4 492.7,337.4 493.2,337.4 493.7,337.4 494.2,337.5 494.7,337.5 495.2,337.5 495.7,337.5 496.2,337.5 496.7,337.6 497.2,337.6 497.7,337.6 498.2,337.6 498.7,337.6 499.2,337.7 499.7,337.7 500.2,337.7 500.7,337.7 501.2,337.7 501.7,337.7 502.2,337.8 502.7,337.8 503.2,337.8 503.7,337.8 504.2,337.8 504.7,337.8 505.2,337.9 505.7,337.9 506.2,337.9 506.7,337.9 507.2,337.9 507.7,337.9 508.2,338.0 508.7,338.0 509.2,338.0 509.7,338.0 510.2,338.0 510.7,338.0 511.2,338.0 511.7,338.1 512.2,338.1 512.7,338.1 513.2,338.1 513.7,338.1 514.2,338.1 514.7,338.1 515.2,338.2 515.7,338.2 516.2,338.2 516.7,338.2 517.2,338.2 517.7,338.2 518.2,338.2 518.7,338.3 519.2,338.3 519.7,338.3 520.2,338.3 520.7,338.3 521.2,338.3 521.7,338.3 522.2,338.3 522.7,338.4 523.2,338.4 523.7,338.4 524.2,338.4 524.7,338.4 525.2,338.4 525.7,338.4 526.2,338.4 526.7,338.5 527.2,338.5 527.7,338.5 528.2,338.5 528.7,338.5 529.2,338.5 529.7,338.5 530.2,338.5 530.7,338.5 531.2,338.6 531.7,338.6 532.2,338.6 532.7,338.6 533.2,338.6 533.7,338.6 534.2,338.6 534.7,338.6 535.2,338.6 535.7,338.7 536.2,338.7 536.7,338.7 537.2,338.7 537.7,338.7 538.2,338.7 538.7,338.7 539.2,338.7 539.7,338.7" stroke="#ff00ff" stroke-width="4.3"/>
<polyline points="57.2,338.8 57.9,338.8 58.5,339.3 59.1,339.7 59.8,339.8 60.4,339.6 61.1,338.6 61.7,338.0 62.4,338.8 63.0,339.1 63.7,338.4 64.3,338.2 65.0,338.8 65.6,339.2 66.3,338.7 66.9,338.6 67.6,339.4 68.2,340.0 68.9,340.5 69.5,340.7 70.2,340.3 70.8,339.7 71.5,339.3 72.1,338.6 72.8,338.2 73.4,339.3 74.1,340.3 74.7,339.6 75.4,338.4 76.0,338.7 76.7,339.4 77.3,339.4 78.0,339.3 78.6,338.7 79.3,337.9 79.9,338.3 80.6,338.0 81.2,337.6 81.9,338.1 82.5,338.2 83.2,337.9 83.8,338.3 84.5,338.7 85.1,337.7 85.8,337.4 86.4,338.1 87.1,337.7 87.7,337.6 88.4,337.4 89.0,336.2 89.7,336.8 90.3,338.1 91.0,337.7 91.6,337.2 92.3,337.2 92.9,337.1 93.6,337.0 94.2,336.4 94.9,336.3 95.5,337.2 96.2,337.5 96.8,337.5 97.5,337.7 98.1,338.2 98.8,338.0 99.4,337.1 100.1,336.1 100.7,336.4 101.4,337.8 102.0,337.7 102.7,337.4 103.3,338.2 104.0,337.9 104.6,336.6 105.3,335.7 105.9,335.9 106.6,336.8 107.2,337.1 107.9,336.4 108.5,335.7 109.2,336.4 109.8,336.7 110.5,336.3 111.1,336.4 111.8,336.9 112.4,337.2 113.1,336.8 113.7,336.1 114.4,335.3 115.0,335.3 115.7,335.6 116.3,335.7 117.0,335.6 117.6,335.3 118.3,335.3 118.9,335.9 119.6,336.3 120.2,336.5 120.9,337.4 121.5,337.7 122.2,336.8 122.8,336.1 123.5,334.8 124.1,334.0 124.8,335.3 125.4,335.9 126.1,335.0 126.7,334.7 127.4,335.0 128.0,334.9 128.7,334.3 129.3,334.5 130.0,335.3 130.6,335.0 131.3,334.9 131.9,335.1 132.6,334.9 133.2,334.5 133.9,333.8 134.5,333.6 135.2,334.1 135.8,334.4 136.5,334.8 137.1,335.6 137.8,335.0 138.4,334.5 139.1,334.5 139.7,334.1 140.4,333.9 141.0,333.5 141.7,333.1 142.3,332.6 143.0,333.0 143.6,333.3 144.3,331.7 144.9,331.0 145.6,332.0 146.2,332.5 146.9,332.6 147.5,332.3 148.2,331.5 148.8,331.6 149.5,332.0 150.1,332.1 150.8,332.4 151.4,331.7 152.1,330.5 152.7,330.0 153.4,329.9 154.0,330.3 154.7,330.8 155.3,330.7 156.0,330.3 156.6,330.0 157.3,329.8 157.9,330.1 158.6,330.4 159.2,329.3 159.9,328.0 160.5,328.7 161.2,329.0 161.8,327.6 162.5,327.1 163.1,328.0 163.8,328.1 164.4,328.1 165.1,327.9 165.7,326.5 166.4,325.9 167.0,326.0 167.7,325.9 168.3,325.4 169.0,325.2 169.6,325.3 170.3,325.5 170.9,324.7 171.6,323.2 172.2,323.0 172.9,322.8 173.5,322.5 174.2,322.5 174.8,321.9 175.5,321.0 176.1,320.8 176.8,320.5 177.4,319.4 178.1,318.2 178.7,317.7 179.4,317.9 180.0,318.4 180.7,317.9 181.3,316.0 182.0,315.0 182.6,314.9 183.3,314.1 184.5,312.0 186.5,307.7 188.0,290.0 189.0,268.0 190.1,250.0 190.2,203.0 190.9,198.0 190.8,62.0 191.8,58.0 192.1,40.0 192.3,28.0 192.4,-200.0 193.4,27.0 194.5,-200.0 194.6,27.5 195.3,29.0 195.3,40.0 195.7,60.0 196.0,164.0 196.7,168.0 196.7,234.0 197.8,238.0 198.2,268.0 199.6,284.6 200.4,284.0 201.8,283.0 203.3,281.7 206.0,280.0 208.0,278.5 210.6,276.4 212.8,273.2 213.8,273.1 214.5,272.9 215.1,272.9 215.8,272.5 216.4,272.0 217.1,273.1 217.7,274.6 218.4,274.9 219.0,276.0 219.7,276.7 220.3,274.9 221.0,273.5 221.6,274.6 222.3,276.3 222.9,276.4 223.6,275.8 224.2,276.5 224.9,277.6 225.5,278.4 226.2,278.9 226.8,279.3 227.5,280.1 228.1,281.8 228.8,283.1 229.4,283.8 230.1,284.4 230.7,285.3 231.4,286.9 232.0,287.8 232.7,288.8 233.3,289.5 234.0,288.9 234.6,289.6 235.3,291.6 235.9,292.4 236.6,294.2 237.2,296.4 237.9,296.4 238.5,296.4 239.2,297.7 239.8,299.0 240.5,299.7 241.1,299.6 241.8,299.7 242.4,300.8 243.1,301.5 243.7,302.0 244.4,303.6 245.0,305.4 245.7,305.7 246.3,304.7 247.0,304.5 247.6,305.4 248.3,306.3 248.9,307.3 249.6,308.0 250.2,308.8 250.9,309.3 251.5,309.0 252.2,308.6 252.8,309.2 253.5,310.4 254.1,311.2 254.8,310.8 255.4,309.8 256.1,310.1 256.7,311.0 257.4,311.8 258.0,312.2 258.7,311.5 259.3,311.0 260.0,311.6 260.6,312.1 261.3,312.1 261.9,312.6 262.6,313.3 263.2,313.3 263.9,312.8 264.5,312.4 265.2,312.6 265.8,312.0 266.5,311.5 267.1,312.6 267.8,313.2 268.4,312.8 269.1,313.0 269.7,313.3 270.4,312.1 271.0,311.3 271.7,312.3 272.3,313.4 273.0,313.5 273.6,313.4 274.3,313.9 274.9,313.5 275.6,312.5 276.2,312.4 276.9,311.5 277.5,310.9 278.2,311.4 278.8,311.1 279.5,310.6 280.1,311.7 280.8,312.8 281.4,312.9 282.1,311.5 282.7,310.0 283.4,310.4 284.0,311.7 284.7,312.0 285.3,311.3 286.0,310.7 286.6,310.4 287.3,310.2 287.9,310.0 288.6,310.1 289.2,309.9 289.9,309.6 290.5,309.3 291.2,308.4 291.8,307.5 292.5,307.9 293.1,309.1 293.8,309.6 294.4,309.4 295.1,309.9 295.7,309.4 296.4,307.5 297.0,306.9 297.7,308.0 298.3,308.7 299.0,308.3 299.6,307.4 300.3,305.8 300.9,304.8 301.6,305.8 302.2,307.2 302.9,307.2 303.5,306.4 304.2,306.3 304.8,306.4 305.5,306.2 306.1,305.8 306.8,304.6 307.4,303.8 308.1,304.2 308.7,304.9 309.4,304.9 310.0,305.0 310.7,305.1 311.3,305.2 312.0,305.5 312.6,304.9 313.3,303.4 313.9,302.8 314.6,302.2 315.2,302.1 315.9,303.0 316.5,302.6 317.2,301.1 317.8,300.4 318.5,299.9 319.1,299.0 319.8,299.0 320.4,299.7 321.1,298.8 321.7,297.0 322.4,296.7 323.0,296.7 323.7,294.7 324.3,293.0 325.0,292.5 325.6,292.5 326.3,292.3 326.9,290.5 327.6,288.0 328.2,286.8 328.9,285.9 329.5,285.1 330.2,284.4 330.8,283.3 331.5,280.8 332.1,278.2 332.8,276.4 333.4,273.5 334.1,271.3 334.7,269.6 335.4,266.8 336.0,263.3 336.7,259.8 337.3,256.4 338.0,252.6 338.6,248.3 339.3,244.0 339.9,238.9 340.6,232.2 341.2,225.9 341.9,220.2 342.5,213.1 343.2,205.4 343.8,196.9 344.5,187.3 345.1,177.3 345.8,166.9 346.4,156.5 347.1,145.2 347.7,133.5 348.4,121.3 349.0,108.3 349.7,95.7 350.3,83.7 351.0,72.9 351.6,63.4 352.3,54.4 352.9,46.8 353.6,42.2 354.2,40.8 354.9,41.9 355.5,45.0 356.2,49.8 356.8,57.9 357.5,67.5 358.1,76.6 358.8,87.5 359.4,100.8 360.1,113.5 360.7,125.4 361.4,136.9 362.0,147.8 362.7,159.0 363.3,169.1 364.0,178.3 364.6,187.3 365.3,195.7 365.9,203.9 366.6,211.8 367.2,217.4 367.9,221.7 368.5,227.0 369.2,232.3 369.8,236.7 370.5,240.7 371.1,243.7 371.8,246.8 372.4,251.4 373.1,255.3 373.7,257.8 374.4,259.4 375.0,260.2 375.7,262.1 376.3,265.4 377.0,267.8 377.6,268.4 378.3,270.1 378.9,273.0 379.6,274.4 380.2,275.4 380.9,276.9 381.5,279.0 382.2,281.3 382.8,283.4 383.5,284.3 384.1,284.3 384.8,285.9 385.4,288.7 386.1,291.4 386.7,293.3 387.4,294.0 388.0,294.7 388.7,296.1 389.3,297.9 390.0,299.7 390.6,300.6 391.3,301.1 391.9,301.2 392.6,302.2 393.2,304.8 393.9,306.9 394.5,307.9 395.2,309.1 395.8,310.1 396.5,311.0 397.1,311.8 397.8,312.1 398.4,312.8 399.1,313.8 399.7,314.9 400.4,316.3 401.0,317.1 401.7,317.5 402.3,317.9 403.0,318.2 403.6,319.2 404.3,320.3 404.9,320.9 405.6,321.6 406.2,322.1 406.9,322.7 407.5,323.6 408.2,323.2 408.8,322.9 409.5,323.7 410.1,324.4 410.8,325.0 411.4,325.6 412.1,325.8 412.7,325.9 413.4,326.3 414.0,326.9 414.7,326.7 415.3,326.7 416.0,327.3 416.6,327.6 417.3,328.1 417.9,328.8 418.6,328.5 419.2,328.1 419.9,328.4 420.5,329.0 421.2,329.8 421.8,329.8 422.5,329.4 423.1,329.5 423.8,330.6 424.4,331.4 425.1,330.6 425.7,329.7 426.4,330.1 427.0,331.6 427.7,332.4 428.3,331.9 429.0,332.8 429.6,334.1 430.3,333.7 430.9,334.1 431.6,334.6 432.2,333.6 432.9,332.8 433.5,333.2 434.2,333.0 434.8,331.9 435.5,332.3 436.1,333.8 436.8,335.0 437.4,335.7 438.1,335.4 438.7,334.6 439.4,334.5 440.0,334.5 440.7,334.8 441.3,335.6 442.0,335.5 442.6,334.9 443.3,334.7 443.9,334.8 444.6,335.4 445.2,336.0 445.9,336.4 446.5,337.5 447.2,337.7 447.8,336.7 448.5,336.4 449.1,337.1 449.8,338.1 450.4,338.0 451.1,337.9 451.7,338.8 452.4,339.2 453.0,338.1 453.7,336.8 454.3,337.2 455.0,337.9 455.6,337.7 456.3,338.3 456.9,339.6 457.6,338.9 458.2,337.5 458.9,336.9 459.5,336.4 460.2,336.8 460.8,337.7 461.5,337.9 462.1,338.1 462.8,338.8 463.4,338.7 464.1,337.5 464.7,337.3 465.4,338.4 466.0,339.1 466.7,338.5 467.3,338.2 468.0,338.3 468.6,338.7 469.3,339.7 469.9,340.1 470.6,339.5 471.2,338.8 471.9,339.2 472.5,340.7 473.2,340.8 473.8,340.1 474.5,340.7 475.1,340.8 475.8,339.6 476.4,339.1 477.1,339.7 477.7,339.9 478.4,339.7 479.0,339.6 479.7,339.8 480.3,340.8 481.0,341.1 481.6,340.7 482.3,340.6 482.9,340.1 483.6,340.4 484.2,341.0 484.9,340.9 485.5,340.5 486.2,340.3 486.8,340.9 487.5,340.8 488.1,339.2 488.8,338.1 489.4,338.6 490.1,340.0 490.7,340.2 491.4,339.8 492.0,340.8 492.7,341.7 493.3,341.1 494.0,341.0 494.6,342.1 495.3,343.1 495.9,342.5 496.6,341.5 497.2,341.6 497.9,341.5 498.5,341.0 499.2,340.9 499.8,341.2 500.5,341.4 501.1,342.0 501.8,342.3 502.4,341.9 503.1,341.1 503.7,341.4 504.4,342.2 505.0,342.1 505.7,341.6 506.3,341.8 507.0,342.9 507.6,343.1 508.3,341.4 508.9,339.7 509.6,340.2 510.2,341.3 510.9,340.6 511.5,340.2 512.2,341.4 512.8,341.8 513.5,341.0 514.1,340.9 514.8,341.5 515.4,341.4 516.1,340.2 516.7,339.9 517.4,340.8 518.0,342.1 518.7,343.0 519.3,342.4 520.0,341.9 520.6,341.7 521.3,341.6 521.9,342.8 522.6,343.4 523.2,342.8 523.9,342.7 524.5,343.0 525.2,342.9 525.8,343.6 526.5,343.6 527.1,342.2 527.8,341.4 528.4,340.8 529.1,340.6 529.7,342.3 530.4,344.0 531.0,344.1 531.7,343.8 532.3,343.3 533.0,343.3 533.6,343.8 534.3,343.6 534.9,343.4 535.6,343.0 536.2,342.7 536.9,342.9 537.5,343.0 538.2,343.3 538.8,343.9 539.5,344.1" stroke="#000" stroke-width="1.8"/>
</g>
<text x="87.9" y="372.5" textLength="40" lengthAdjust="spacingAndGlyphs" font-size="21" font-family="Liberation Serif, serif" font-weight="bold" stroke="#fff" stroke-width="0.15">1200</text>
<text x="216.8" y="372.5" textLength="40" lengthAdjust="spacingAndGlyphs" font-size="21" font-family="Liberation Serif, serif" font-weight="bold" stroke="#fff" stroke-width="0.15">1400</text>
<text x="345.4" y="372.5" textLength="40" lengthAdjust="spacingAndGlyphs" font-size="21" font-family="Liberation Serif, serif" font-weight="bold" stroke="#fff" stroke-width="0.15">1600</text>
<text x="474.0" y="372.5" textLength="40" lengthAdjust="spacingAndGlyphs" font-size="21" font-family="Liberation Serif, serif" font-weight="bold" stroke="#fff" stroke-width="0.15">1800</text>
<text x="48.5" y="44.3" text-anchor="end" font-size="21" font-family="Liberation Serif, serif" font-weight="bold" stroke="#fff" stroke-width="0.15">1</text>
<text x="48.5" y="344.2" text-anchor="end" font-size="21" font-family="Liberation Serif, serif" font-weight="bold" stroke="#fff" stroke-width="0.15">0</text>
<text x="215" y="403.8" textLength="148" lengthAdjust="spacingAndGlyphs" font-size="21" font-family="Liberation Serif, serif" font-weight="bold" stroke="#fff" stroke-width="0.15">Raman shift (cm</text>
<text x="363.3" y="393" font-size="14" font-family="Liberation Serif, serif" font-weight="bold" stroke="#fff" stroke-width="0.15">-</text>
<text x="368.3" y="393" font-size="14" font-family="Liberation Serif, serif" font-weight="bold" stroke="#fff" stroke-width="0.15">1</text>
<text x="375.6" y="403.2" font-size="19.5" font-family="Liberation Serif, serif" font-weight="bold" stroke="#fff" stroke-width="0.15">)</text>
<text transform="translate(23.7,269) rotate(-90)" x="0" y="0" textLength="198" lengthAdjust="spacingAndGlyphs" font-size="21" font-family="Liberation Serif, serif" font-weight="bold" stroke="#fff" stroke-width="0.15">Raman intensity (a.u.)</text>
<rect x="393" y="17.5" width="139.4" height="151.4" fill="none" stroke="#333" stroke-width="1.4"/>
<line x1="394.7" y1="31.0" x2="423.9" y2="31.0" stroke="#000000" stroke-width="2"/>
<text x="427.5" y="38.8" font-size="21" font-family="Liberation Serif, serif" font-weight="bold" stroke="#fff" stroke-width="0.15">experiment</text>
<line x1="394.7" y1="55.0" x2="423.9" y2="55.0" stroke="#ff0000" stroke-width="2"/>
<text x="427.5" y="62.3" font-size="21" font-family="Liberation Serif, serif" font-weight="bold" stroke="#fff" stroke-width="0.15">D band</text>
<line x1="394.7" y1="79.4" x2="423.9" y2="79.4" stroke="#0000ff" stroke-width="2"/>
<text x="427.5" y="86.4" font-size="21" font-family="Liberation Serif, serif" font-weight="bold" stroke="#fff" stroke-width="0.15">G-band</text>
<line x1="394.7" y1="106.7" x2="423.9" y2="106.7" stroke="#ff8000" stroke-width="2"/>
<text x="427" y="114.2" textLength="40" lengthAdjust="spacingAndGlyphs" font-size="21" font-family="Liberation Serif, serif" font-weight="bold" stroke="#fff" stroke-width="0.15">1510</text>
<text x="471.5" y="114.2" textLength="25.5" lengthAdjust="spacingAndGlyphs" font-size="21" font-family="Liberation Serif, serif" font-weight="bold" stroke="#fff" stroke-width="0.15">cm</text>
<text x="498" y="105.3" font-size="14" font-family="Liberation Serif, serif" font-weight="bold" stroke="#fff" stroke-width="0.15">−</text>
<text x="505" y="103.6" font-size="14" font-family="Liberation Serif, serif" font-weight="bold" stroke="#fff" stroke-width="0.15">1</text>
<line x1="394.7" y1="131.8" x2="423.9" y2="131.8" stroke="#808000" stroke-width="2"/>
<text x="427.5" y="138.1" font-size="21" font-family="Liberation Serif, serif" font-weight="bold" stroke="#fff" stroke-width="0.15">D' band</text>
<line x1="395.3" y1="155.5" x2="422.9" y2="155.5" stroke="#ff00ff" stroke-width="4.3" stroke-linecap="round"/>
<text x="427.5" y="162.8" font-size="21" font-family="Liberation Serif, serif" font-weight="bold" stroke="#fff" stroke-width="0.15">sum</text>
</svg>
</body></html>
